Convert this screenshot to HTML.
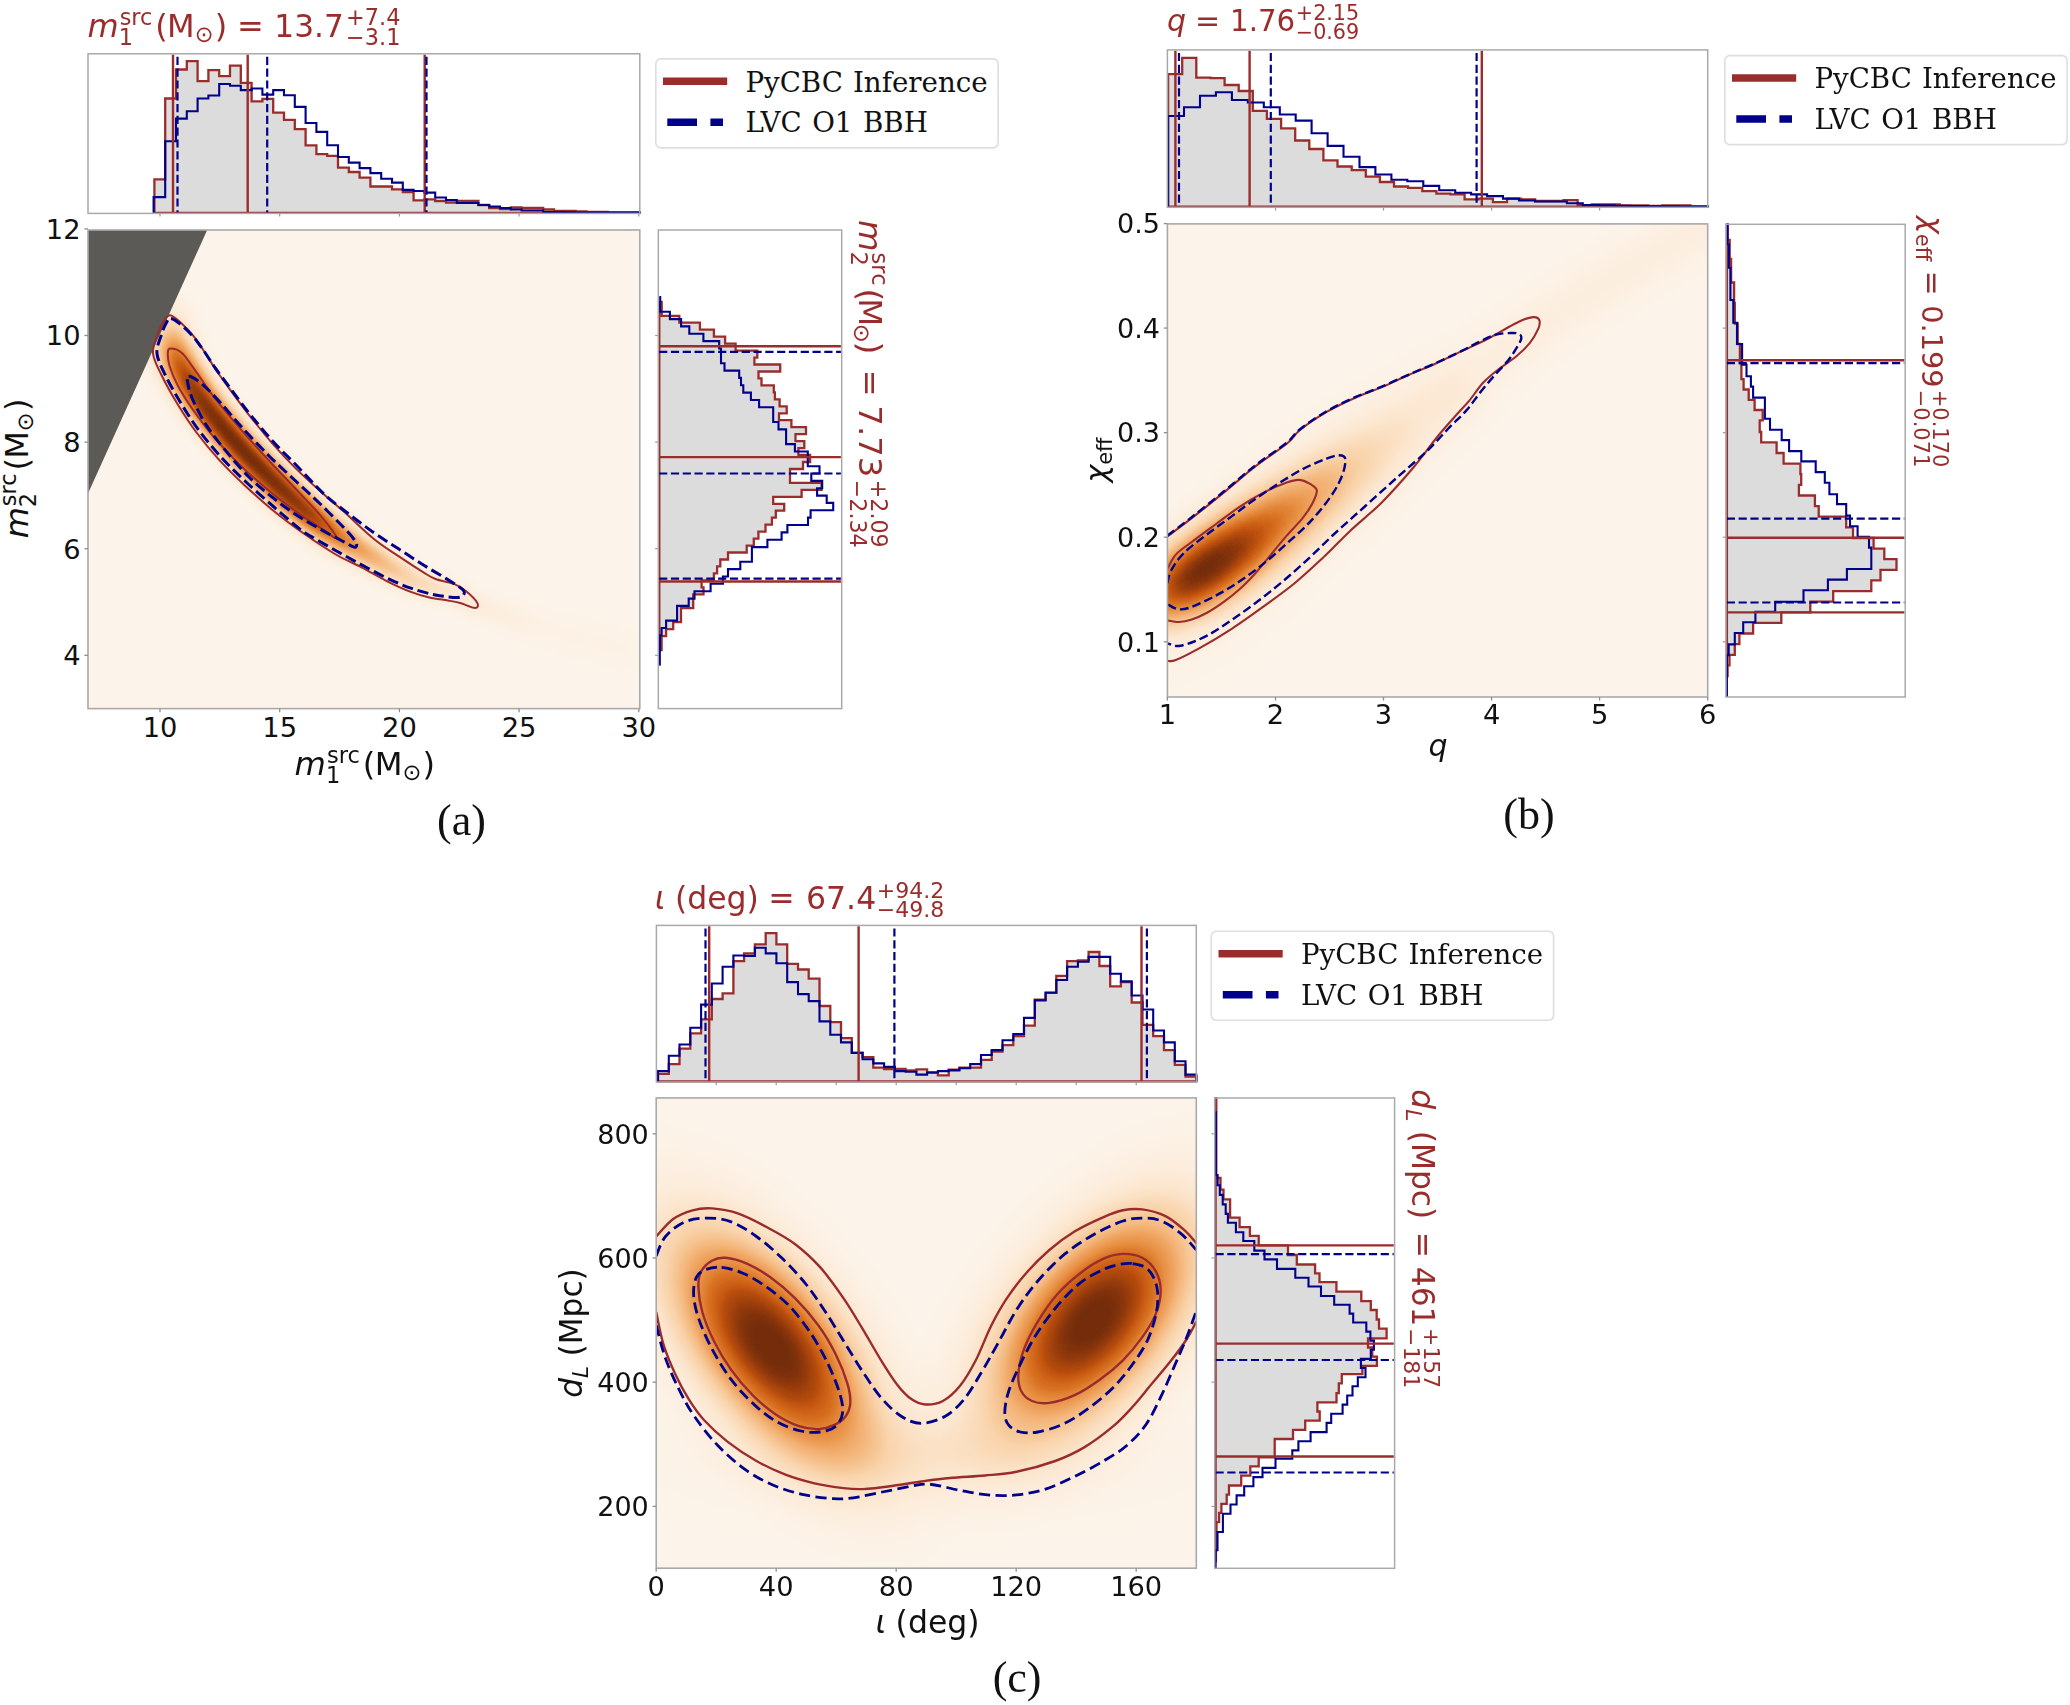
<!DOCTYPE html><html><head><meta charset="utf-8"><title>Posterior comparison</title>
<style>html,body{margin:0;padding:0;background:#fff}svg{display:block}</style></head><body>
<svg width="2070" height="1705" viewBox="0 0 2070 1705">
<defs>
<radialGradient id="g1" cx="0" cy="0" r="1" gradientUnits="userSpaceOnUse"><stop offset="0" stop-color="#fff" stop-opacity="0.0159"/><stop offset="0.05" stop-color="#fff" stop-opacity="0.0157"/><stop offset="0.09" stop-color="#fff" stop-opacity="0.0152"/><stop offset="0.14" stop-color="#fff" stop-opacity="0.0144"/><stop offset="0.18" stop-color="#fff" stop-opacity="0.0133"/><stop offset="0.23" stop-color="#fff" stop-opacity="0.012"/><stop offset="0.27" stop-color="#fff" stop-opacity="0.0106"/><stop offset="0.32" stop-color="#fff" stop-opacity="0.0092"/><stop offset="0.36" stop-color="#fff" stop-opacity="0.0078"/><stop offset="0.41" stop-color="#fff" stop-opacity="0.0064"/><stop offset="0.45" stop-color="#fff" stop-opacity="0.0052"/><stop offset="0.5" stop-color="#fff" stop-opacity="0.0041"/><stop offset="0.55" stop-color="#fff" stop-opacity="0.0032"/><stop offset="0.59" stop-color="#fff" stop-opacity="0.0024"/><stop offset="0.64" stop-color="#fff" stop-opacity="0.0018"/><stop offset="0.68" stop-color="#fff" stop-opacity="0.0013"/><stop offset="0.73" stop-color="#fff" stop-opacity="0.0009"/><stop offset="0.77" stop-color="#fff" stop-opacity="0.0006"/><stop offset="0.82" stop-color="#fff" stop-opacity="0.0004"/><stop offset="0.86" stop-color="#fff" stop-opacity="0.0003"/><stop offset="0.91" stop-color="#fff" stop-opacity="0.0002"/><stop offset="0.95" stop-color="#fff" stop-opacity="0.0001"/><stop offset="1" stop-color="#fff" stop-opacity="0"/></radialGradient>
<radialGradient id="g2" cx="0" cy="0" r="1" gradientUnits="userSpaceOnUse"><stop offset="0" stop-color="#fff" stop-opacity="0.0469"/><stop offset="0.05" stop-color="#fff" stop-opacity="0.0464"/><stop offset="0.09" stop-color="#fff" stop-opacity="0.0449"/><stop offset="0.14" stop-color="#fff" stop-opacity="0.0425"/><stop offset="0.18" stop-color="#fff" stop-opacity="0.0393"/><stop offset="0.23" stop-color="#fff" stop-opacity="0.0356"/><stop offset="0.27" stop-color="#fff" stop-opacity="0.0315"/><stop offset="0.32" stop-color="#fff" stop-opacity="0.0273"/><stop offset="0.36" stop-color="#fff" stop-opacity="0.0231"/><stop offset="0.41" stop-color="#fff" stop-opacity="0.0191"/><stop offset="0.45" stop-color="#fff" stop-opacity="0.0155"/><stop offset="0.5" stop-color="#fff" stop-opacity="0.0122"/><stop offset="0.55" stop-color="#fff" stop-opacity="0.0095"/><stop offset="0.59" stop-color="#fff" stop-opacity="0.0071"/><stop offset="0.64" stop-color="#fff" stop-opacity="0.0053"/><stop offset="0.68" stop-color="#fff" stop-opacity="0.0038"/><stop offset="0.73" stop-color="#fff" stop-opacity="0.0027"/><stop offset="0.77" stop-color="#fff" stop-opacity="0.0019"/><stop offset="0.82" stop-color="#fff" stop-opacity="0.0013"/><stop offset="0.86" stop-color="#fff" stop-opacity="0.0008"/><stop offset="0.91" stop-color="#fff" stop-opacity="0.0005"/><stop offset="0.95" stop-color="#fff" stop-opacity="0.0003"/><stop offset="1" stop-color="#fff" stop-opacity="0"/></radialGradient>
<radialGradient id="g3" cx="0" cy="0" r="1" gradientUnits="userSpaceOnUse"><stop offset="0" stop-color="#fff" stop-opacity="0.0915"/><stop offset="0.05" stop-color="#fff" stop-opacity="0.0906"/><stop offset="0.09" stop-color="#fff" stop-opacity="0.0877"/><stop offset="0.14" stop-color="#fff" stop-opacity="0.0831"/><stop offset="0.18" stop-color="#fff" stop-opacity="0.0771"/><stop offset="0.23" stop-color="#fff" stop-opacity="0.0699"/><stop offset="0.27" stop-color="#fff" stop-opacity="0.062"/><stop offset="0.32" stop-color="#fff" stop-opacity="0.0538"/><stop offset="0.36" stop-color="#fff" stop-opacity="0.0457"/><stop offset="0.41" stop-color="#fff" stop-opacity="0.0379"/><stop offset="0.45" stop-color="#fff" stop-opacity="0.0307"/><stop offset="0.5" stop-color="#fff" stop-opacity="0.0243"/><stop offset="0.55" stop-color="#fff" stop-opacity="0.0188"/><stop offset="0.59" stop-color="#fff" stop-opacity="0.0142"/><stop offset="0.64" stop-color="#fff" stop-opacity="0.0105"/><stop offset="0.68" stop-color="#fff" stop-opacity="0.0076"/><stop offset="0.73" stop-color="#fff" stop-opacity="0.0054"/><stop offset="0.77" stop-color="#fff" stop-opacity="0.0037"/><stop offset="0.82" stop-color="#fff" stop-opacity="0.0025"/><stop offset="0.86" stop-color="#fff" stop-opacity="0.0017"/><stop offset="0.91" stop-color="#fff" stop-opacity="0.0011"/><stop offset="0.95" stop-color="#fff" stop-opacity="0.0007"/><stop offset="1" stop-color="#fff" stop-opacity="0"/></radialGradient>
<radialGradient id="g4" cx="0" cy="0" r="1" gradientUnits="userSpaceOnUse"><stop offset="0" stop-color="#fff" stop-opacity="0.1614"/><stop offset="0.05" stop-color="#fff" stop-opacity="0.1597"/><stop offset="0.09" stop-color="#fff" stop-opacity="0.1549"/><stop offset="0.14" stop-color="#fff" stop-opacity="0.147"/><stop offset="0.18" stop-color="#fff" stop-opacity="0.1367"/><stop offset="0.23" stop-color="#fff" stop-opacity="0.1244"/><stop offset="0.27" stop-color="#fff" stop-opacity="0.1108"/><stop offset="0.32" stop-color="#fff" stop-opacity="0.0964"/><stop offset="0.36" stop-color="#fff" stop-opacity="0.0821"/><stop offset="0.41" stop-color="#fff" stop-opacity="0.0683"/><stop offset="0.45" stop-color="#fff" stop-opacity="0.0555"/><stop offset="0.5" stop-color="#fff" stop-opacity="0.0441"/><stop offset="0.55" stop-color="#fff" stop-opacity="0.0342"/><stop offset="0.59" stop-color="#fff" stop-opacity="0.0259"/><stop offset="0.64" stop-color="#fff" stop-opacity="0.0192"/><stop offset="0.68" stop-color="#fff" stop-opacity="0.0139"/><stop offset="0.73" stop-color="#fff" stop-opacity="0.0098"/><stop offset="0.77" stop-color="#fff" stop-opacity="0.0068"/><stop offset="0.82" stop-color="#fff" stop-opacity="0.0046"/><stop offset="0.86" stop-color="#fff" stop-opacity="0.003"/><stop offset="0.91" stop-color="#fff" stop-opacity="0.002"/><stop offset="0.95" stop-color="#fff" stop-opacity="0.0012"/><stop offset="1" stop-color="#fff" stop-opacity="0"/></radialGradient>
<radialGradient id="g5" cx="0" cy="0" r="1" gradientUnits="userSpaceOnUse"><stop offset="0" stop-color="#fff" stop-opacity="0.2381"/><stop offset="0.05" stop-color="#fff" stop-opacity="0.2358"/><stop offset="0.09" stop-color="#fff" stop-opacity="0.229"/><stop offset="0.14" stop-color="#fff" stop-opacity="0.2179"/><stop offset="0.18" stop-color="#fff" stop-opacity="0.2032"/><stop offset="0.23" stop-color="#fff" stop-opacity="0.1856"/><stop offset="0.27" stop-color="#fff" stop-opacity="0.1659"/><stop offset="0.32" stop-color="#fff" stop-opacity="0.1451"/><stop offset="0.36" stop-color="#fff" stop-opacity="0.124"/><stop offset="0.41" stop-color="#fff" stop-opacity="0.1036"/><stop offset="0.45" stop-color="#fff" stop-opacity="0.0845"/><stop offset="0.5" stop-color="#fff" stop-opacity="0.0673"/><stop offset="0.55" stop-color="#fff" stop-opacity="0.0524"/><stop offset="0.59" stop-color="#fff" stop-opacity="0.0398"/><stop offset="0.64" stop-color="#fff" stop-opacity="0.0295"/><stop offset="0.68" stop-color="#fff" stop-opacity="0.0214"/><stop offset="0.73" stop-color="#fff" stop-opacity="0.0152"/><stop offset="0.77" stop-color="#fff" stop-opacity="0.0105"/><stop offset="0.82" stop-color="#fff" stop-opacity="0.0071"/><stop offset="0.86" stop-color="#fff" stop-opacity="0.0047"/><stop offset="0.91" stop-color="#fff" stop-opacity="0.003"/><stop offset="0.95" stop-color="#fff" stop-opacity="0.0019"/><stop offset="1" stop-color="#fff" stop-opacity="0"/></radialGradient>
<radialGradient id="g6" cx="0" cy="0" r="1" gradientUnits="userSpaceOnUse"><stop offset="0" stop-color="#fff" stop-opacity="0.3079"/><stop offset="0.05" stop-color="#fff" stop-opacity="0.305"/><stop offset="0.09" stop-color="#fff" stop-opacity="0.2966"/><stop offset="0.14" stop-color="#fff" stop-opacity="0.2829"/><stop offset="0.18" stop-color="#fff" stop-opacity="0.2646"/><stop offset="0.23" stop-color="#fff" stop-opacity="0.2425"/><stop offset="0.27" stop-color="#fff" stop-opacity="0.2176"/><stop offset="0.32" stop-color="#fff" stop-opacity="0.1911"/><stop offset="0.36" stop-color="#fff" stop-opacity="0.164"/><stop offset="0.41" stop-color="#fff" stop-opacity="0.1375"/><stop offset="0.45" stop-color="#fff" stop-opacity="0.1126"/><stop offset="0.5" stop-color="#fff" stop-opacity="0.09"/><stop offset="0.55" stop-color="#fff" stop-opacity="0.0702"/><stop offset="0.59" stop-color="#fff" stop-opacity="0.0535"/><stop offset="0.64" stop-color="#fff" stop-opacity="0.0398"/><stop offset="0.68" stop-color="#fff" stop-opacity="0.0289"/><stop offset="0.73" stop-color="#fff" stop-opacity="0.0204"/><stop offset="0.77" stop-color="#fff" stop-opacity="0.0142"/><stop offset="0.82" stop-color="#fff" stop-opacity="0.0096"/><stop offset="0.86" stop-color="#fff" stop-opacity="0.0063"/><stop offset="0.91" stop-color="#fff" stop-opacity="0.0041"/><stop offset="0.95" stop-color="#fff" stop-opacity="0.0026"/><stop offset="1" stop-color="#fff" stop-opacity="0"/></radialGradient>
<radialGradient id="g7" cx="0" cy="0" r="1" gradientUnits="userSpaceOnUse"><stop offset="0" stop-color="#fff" stop-opacity="0.3611"/><stop offset="0.05" stop-color="#fff" stop-opacity="0.3579"/><stop offset="0.09" stop-color="#fff" stop-opacity="0.3484"/><stop offset="0.14" stop-color="#fff" stop-opacity="0.3329"/><stop offset="0.18" stop-color="#fff" stop-opacity="0.3122"/><stop offset="0.23" stop-color="#fff" stop-opacity="0.2869"/><stop offset="0.27" stop-color="#fff" stop-opacity="0.2583"/><stop offset="0.32" stop-color="#fff" stop-opacity="0.2275"/><stop offset="0.36" stop-color="#fff" stop-opacity="0.1959"/><stop offset="0.41" stop-color="#fff" stop-opacity="0.1648"/><stop offset="0.45" stop-color="#fff" stop-opacity="0.1354"/><stop offset="0.5" stop-color="#fff" stop-opacity="0.1085"/><stop offset="0.55" stop-color="#fff" stop-opacity="0.0848"/><stop offset="0.59" stop-color="#fff" stop-opacity="0.0647"/><stop offset="0.64" stop-color="#fff" stop-opacity="0.0482"/><stop offset="0.68" stop-color="#fff" stop-opacity="0.035"/><stop offset="0.73" stop-color="#fff" stop-opacity="0.0248"/><stop offset="0.77" stop-color="#fff" stop-opacity="0.0172"/><stop offset="0.82" stop-color="#fff" stop-opacity="0.0116"/><stop offset="0.86" stop-color="#fff" stop-opacity="0.0077"/><stop offset="0.91" stop-color="#fff" stop-opacity="0.005"/><stop offset="0.95" stop-color="#fff" stop-opacity="0.0031"/><stop offset="1" stop-color="#fff" stop-opacity="0"/></radialGradient>
<radialGradient id="g8" cx="0" cy="0" r="1" gradientUnits="userSpaceOnUse"><stop offset="0" stop-color="#fff" stop-opacity="0.391"/><stop offset="0.05" stop-color="#fff" stop-opacity="0.3877"/><stop offset="0.09" stop-color="#fff" stop-opacity="0.3776"/><stop offset="0.14" stop-color="#fff" stop-opacity="0.3612"/><stop offset="0.18" stop-color="#fff" stop-opacity="0.3392"/><stop offset="0.23" stop-color="#fff" stop-opacity="0.3123"/><stop offset="0.27" stop-color="#fff" stop-opacity="0.2817"/><stop offset="0.32" stop-color="#fff" stop-opacity="0.2486"/><stop offset="0.36" stop-color="#fff" stop-opacity="0.2145"/><stop offset="0.41" stop-color="#fff" stop-opacity="0.1808"/><stop offset="0.45" stop-color="#fff" stop-opacity="0.1487"/><stop offset="0.5" stop-color="#fff" stop-opacity="0.1194"/><stop offset="0.55" stop-color="#fff" stop-opacity="0.0935"/><stop offset="0.59" stop-color="#fff" stop-opacity="0.0714"/><stop offset="0.64" stop-color="#fff" stop-opacity="0.0532"/><stop offset="0.68" stop-color="#fff" stop-opacity="0.0387"/><stop offset="0.73" stop-color="#fff" stop-opacity="0.0275"/><stop offset="0.77" stop-color="#fff" stop-opacity="0.019"/><stop offset="0.82" stop-color="#fff" stop-opacity="0.0129"/><stop offset="0.86" stop-color="#fff" stop-opacity="0.0085"/><stop offset="0.91" stop-color="#fff" stop-opacity="0.0055"/><stop offset="0.95" stop-color="#fff" stop-opacity="0.0035"/><stop offset="1" stop-color="#fff" stop-opacity="0"/></radialGradient>
<radialGradient id="g9" cx="0" cy="0" r="1" gradientUnits="userSpaceOnUse"><stop offset="0" stop-color="#fff" stop-opacity="0.4288"/><stop offset="0.05" stop-color="#fff" stop-opacity="0.4252"/><stop offset="0.09" stop-color="#fff" stop-opacity="0.4145"/><stop offset="0.14" stop-color="#fff" stop-opacity="0.3971"/><stop offset="0.18" stop-color="#fff" stop-opacity="0.3736"/><stop offset="0.23" stop-color="#fff" stop-opacity="0.3447"/><stop offset="0.27" stop-color="#fff" stop-opacity="0.3117"/><stop offset="0.32" stop-color="#fff" stop-opacity="0.2758"/><stop offset="0.36" stop-color="#fff" stop-opacity="0.2386"/><stop offset="0.41" stop-color="#fff" stop-opacity="0.2016"/><stop offset="0.45" stop-color="#fff" stop-opacity="0.1662"/><stop offset="0.5" stop-color="#fff" stop-opacity="0.1337"/><stop offset="0.55" stop-color="#fff" stop-opacity="0.1049"/><stop offset="0.59" stop-color="#fff" stop-opacity="0.0803"/><stop offset="0.64" stop-color="#fff" stop-opacity="0.0599"/><stop offset="0.68" stop-color="#fff" stop-opacity="0.0436"/><stop offset="0.73" stop-color="#fff" stop-opacity="0.0309"/><stop offset="0.77" stop-color="#fff" stop-opacity="0.0215"/><stop offset="0.82" stop-color="#fff" stop-opacity="0.0145"/><stop offset="0.86" stop-color="#fff" stop-opacity="0.0096"/><stop offset="0.91" stop-color="#fff" stop-opacity="0.0062"/><stop offset="0.95" stop-color="#fff" stop-opacity="0.0039"/><stop offset="1" stop-color="#fff" stop-opacity="0"/></radialGradient>
<radialGradient id="g10" cx="0" cy="0" r="1" gradientUnits="userSpaceOnUse"><stop offset="0" stop-color="#fff" stop-opacity="0.4379"/><stop offset="0.05" stop-color="#fff" stop-opacity="0.4342"/><stop offset="0.09" stop-color="#fff" stop-opacity="0.4234"/><stop offset="0.14" stop-color="#fff" stop-opacity="0.4058"/><stop offset="0.18" stop-color="#fff" stop-opacity="0.3819"/><stop offset="0.23" stop-color="#fff" stop-opacity="0.3526"/><stop offset="0.27" stop-color="#fff" stop-opacity="0.319"/><stop offset="0.32" stop-color="#fff" stop-opacity="0.2824"/><stop offset="0.36" stop-color="#fff" stop-opacity="0.2445"/><stop offset="0.41" stop-color="#fff" stop-opacity="0.2067"/><stop offset="0.45" stop-color="#fff" stop-opacity="0.1706"/><stop offset="0.5" stop-color="#fff" stop-opacity="0.1373"/><stop offset="0.55" stop-color="#fff" stop-opacity="0.1077"/><stop offset="0.59" stop-color="#fff" stop-opacity="0.0824"/><stop offset="0.64" stop-color="#fff" stop-opacity="0.0615"/><stop offset="0.68" stop-color="#fff" stop-opacity="0.0448"/><stop offset="0.73" stop-color="#fff" stop-opacity="0.0318"/><stop offset="0.77" stop-color="#fff" stop-opacity="0.0221"/><stop offset="0.82" stop-color="#fff" stop-opacity="0.0149"/><stop offset="0.86" stop-color="#fff" stop-opacity="0.0099"/><stop offset="0.91" stop-color="#fff" stop-opacity="0.0064"/><stop offset="0.95" stop-color="#fff" stop-opacity="0.004"/><stop offset="1" stop-color="#fff" stop-opacity="0"/></radialGradient>
<radialGradient id="g11" cx="0" cy="0" r="1" gradientUnits="userSpaceOnUse"><stop offset="0" stop-color="#fff" stop-opacity="0.4556"/><stop offset="0.05" stop-color="#fff" stop-opacity="0.4518"/><stop offset="0.09" stop-color="#fff" stop-opacity="0.4408"/><stop offset="0.14" stop-color="#fff" stop-opacity="0.4227"/><stop offset="0.18" stop-color="#fff" stop-opacity="0.3982"/><stop offset="0.23" stop-color="#fff" stop-opacity="0.368"/><stop offset="0.27" stop-color="#fff" stop-opacity="0.3334"/><stop offset="0.32" stop-color="#fff" stop-opacity="0.2956"/><stop offset="0.36" stop-color="#fff" stop-opacity="0.2562"/><stop offset="0.41" stop-color="#fff" stop-opacity="0.2168"/><stop offset="0.45" stop-color="#fff" stop-opacity="0.1791"/><stop offset="0.5" stop-color="#fff" stop-opacity="0.1443"/><stop offset="0.55" stop-color="#fff" stop-opacity="0.1134"/><stop offset="0.59" stop-color="#fff" stop-opacity="0.0868"/><stop offset="0.64" stop-color="#fff" stop-opacity="0.0648"/><stop offset="0.68" stop-color="#fff" stop-opacity="0.0472"/><stop offset="0.73" stop-color="#fff" stop-opacity="0.0336"/><stop offset="0.77" stop-color="#fff" stop-opacity="0.0233"/><stop offset="0.82" stop-color="#fff" stop-opacity="0.0158"/><stop offset="0.86" stop-color="#fff" stop-opacity="0.0104"/><stop offset="0.91" stop-color="#fff" stop-opacity="0.0067"/><stop offset="0.95" stop-color="#fff" stop-opacity="0.0042"/><stop offset="1" stop-color="#fff" stop-opacity="0"/></radialGradient>
<radialGradient id="g12" cx="0" cy="0" r="1" gradientUnits="userSpaceOnUse"><stop offset="0" stop-color="#fff" stop-opacity="0.4642"/><stop offset="0.05" stop-color="#fff" stop-opacity="0.4604"/><stop offset="0.09" stop-color="#fff" stop-opacity="0.4493"/><stop offset="0.14" stop-color="#fff" stop-opacity="0.431"/><stop offset="0.18" stop-color="#fff" stop-opacity="0.4062"/><stop offset="0.23" stop-color="#fff" stop-opacity="0.3756"/><stop offset="0.27" stop-color="#fff" stop-opacity="0.3404"/><stop offset="0.32" stop-color="#fff" stop-opacity="0.302"/><stop offset="0.36" stop-color="#fff" stop-opacity="0.2619"/><stop offset="0.41" stop-color="#fff" stop-opacity="0.2219"/><stop offset="0.45" stop-color="#fff" stop-opacity="0.1834"/><stop offset="0.5" stop-color="#fff" stop-opacity="0.1478"/><stop offset="0.55" stop-color="#fff" stop-opacity="0.1162"/><stop offset="0.59" stop-color="#fff" stop-opacity="0.089"/><stop offset="0.64" stop-color="#fff" stop-opacity="0.0665"/><stop offset="0.68" stop-color="#fff" stop-opacity="0.0484"/><stop offset="0.73" stop-color="#fff" stop-opacity="0.0344"/><stop offset="0.77" stop-color="#fff" stop-opacity="0.0239"/><stop offset="0.82" stop-color="#fff" stop-opacity="0.0162"/><stop offset="0.86" stop-color="#fff" stop-opacity="0.0107"/><stop offset="0.91" stop-color="#fff" stop-opacity="0.0069"/><stop offset="0.95" stop-color="#fff" stop-opacity="0.0044"/><stop offset="1" stop-color="#fff" stop-opacity="0"/></radialGradient>
<radialGradient id="g13" cx="0" cy="0" r="1" gradientUnits="userSpaceOnUse"><stop offset="0" stop-color="#fff" stop-opacity="0.4727"/><stop offset="0.05" stop-color="#fff" stop-opacity="0.4689"/><stop offset="0.09" stop-color="#fff" stop-opacity="0.4576"/><stop offset="0.14" stop-color="#fff" stop-opacity="0.4392"/><stop offset="0.18" stop-color="#fff" stop-opacity="0.4141"/><stop offset="0.23" stop-color="#fff" stop-opacity="0.3831"/><stop offset="0.27" stop-color="#fff" stop-opacity="0.3474"/><stop offset="0.32" stop-color="#fff" stop-opacity="0.3084"/><stop offset="0.36" stop-color="#fff" stop-opacity="0.2677"/><stop offset="0.41" stop-color="#fff" stop-opacity="0.2269"/><stop offset="0.45" stop-color="#fff" stop-opacity="0.1876"/><stop offset="0.5" stop-color="#fff" stop-opacity="0.1513"/><stop offset="0.55" stop-color="#fff" stop-opacity="0.119"/><stop offset="0.59" stop-color="#fff" stop-opacity="0.0912"/><stop offset="0.64" stop-color="#fff" stop-opacity="0.0681"/><stop offset="0.68" stop-color="#fff" stop-opacity="0.0496"/><stop offset="0.73" stop-color="#fff" stop-opacity="0.0353"/><stop offset="0.77" stop-color="#fff" stop-opacity="0.0245"/><stop offset="0.82" stop-color="#fff" stop-opacity="0.0166"/><stop offset="0.86" stop-color="#fff" stop-opacity="0.011"/><stop offset="0.91" stop-color="#fff" stop-opacity="0.0071"/><stop offset="0.95" stop-color="#fff" stop-opacity="0.0045"/><stop offset="1" stop-color="#fff" stop-opacity="0"/></radialGradient>
<radialGradient id="g14" cx="0" cy="0" r="1" gradientUnits="userSpaceOnUse"><stop offset="0" stop-color="#fff" stop-opacity="0.4811"/><stop offset="0.05" stop-color="#fff" stop-opacity="0.4773"/><stop offset="0.09" stop-color="#fff" stop-opacity="0.4659"/><stop offset="0.14" stop-color="#fff" stop-opacity="0.4472"/><stop offset="0.18" stop-color="#fff" stop-opacity="0.4219"/><stop offset="0.23" stop-color="#fff" stop-opacity="0.3905"/><stop offset="0.27" stop-color="#fff" stop-opacity="0.3544"/><stop offset="0.32" stop-color="#fff" stop-opacity="0.3148"/><stop offset="0.36" stop-color="#fff" stop-opacity="0.2733"/><stop offset="0.41" stop-color="#fff" stop-opacity="0.2318"/><stop offset="0.45" stop-color="#fff" stop-opacity="0.1918"/><stop offset="0.5" stop-color="#fff" stop-opacity="0.1548"/><stop offset="0.55" stop-color="#fff" stop-opacity="0.1217"/><stop offset="0.59" stop-color="#fff" stop-opacity="0.0933"/><stop offset="0.64" stop-color="#fff" stop-opacity="0.0698"/><stop offset="0.68" stop-color="#fff" stop-opacity="0.0509"/><stop offset="0.73" stop-color="#fff" stop-opacity="0.0362"/><stop offset="0.77" stop-color="#fff" stop-opacity="0.0251"/><stop offset="0.82" stop-color="#fff" stop-opacity="0.017"/><stop offset="0.86" stop-color="#fff" stop-opacity="0.0112"/><stop offset="0.91" stop-color="#fff" stop-opacity="0.0073"/><stop offset="0.95" stop-color="#fff" stop-opacity="0.0046"/><stop offset="1" stop-color="#fff" stop-opacity="0"/></radialGradient>
<radialGradient id="g15" cx="0" cy="0" r="1" gradientUnits="userSpaceOnUse"><stop offset="0" stop-color="#fff" stop-opacity="0.4893"/><stop offset="0.05" stop-color="#fff" stop-opacity="0.4855"/><stop offset="0.09" stop-color="#fff" stop-opacity="0.474"/><stop offset="0.14" stop-color="#fff" stop-opacity="0.4552"/><stop offset="0.18" stop-color="#fff" stop-opacity="0.4295"/><stop offset="0.23" stop-color="#fff" stop-opacity="0.3979"/><stop offset="0.27" stop-color="#fff" stop-opacity="0.3612"/><stop offset="0.32" stop-color="#fff" stop-opacity="0.3211"/><stop offset="0.36" stop-color="#fff" stop-opacity="0.279"/><stop offset="0.41" stop-color="#fff" stop-opacity="0.2367"/><stop offset="0.45" stop-color="#fff" stop-opacity="0.196"/><stop offset="0.5" stop-color="#fff" stop-opacity="0.1582"/><stop offset="0.55" stop-color="#fff" stop-opacity="0.1245"/><stop offset="0.59" stop-color="#fff" stop-opacity="0.0955"/><stop offset="0.64" stop-color="#fff" stop-opacity="0.0714"/><stop offset="0.68" stop-color="#fff" stop-opacity="0.0521"/><stop offset="0.73" stop-color="#fff" stop-opacity="0.037"/><stop offset="0.77" stop-color="#fff" stop-opacity="0.0257"/><stop offset="0.82" stop-color="#fff" stop-opacity="0.0174"/><stop offset="0.86" stop-color="#fff" stop-opacity="0.0115"/><stop offset="0.91" stop-color="#fff" stop-opacity="0.0074"/><stop offset="0.95" stop-color="#fff" stop-opacity="0.0047"/><stop offset="1" stop-color="#fff" stop-opacity="0"/></radialGradient>
<radialGradient id="g16" cx="0" cy="0" r="1" gradientUnits="userSpaceOnUse"><stop offset="0" stop-color="#fff" stop-opacity="0.4468"/><stop offset="0.05" stop-color="#fff" stop-opacity="0.4431"/><stop offset="0.09" stop-color="#fff" stop-opacity="0.4322"/><stop offset="0.14" stop-color="#fff" stop-opacity="0.4143"/><stop offset="0.18" stop-color="#fff" stop-opacity="0.3901"/><stop offset="0.23" stop-color="#fff" stop-opacity="0.3604"/><stop offset="0.27" stop-color="#fff" stop-opacity="0.3262"/><stop offset="0.32" stop-color="#fff" stop-opacity="0.289"/><stop offset="0.36" stop-color="#fff" stop-opacity="0.2504"/><stop offset="0.41" stop-color="#fff" stop-opacity="0.2118"/><stop offset="0.45" stop-color="#fff" stop-opacity="0.1749"/><stop offset="0.5" stop-color="#fff" stop-opacity="0.1408"/><stop offset="0.55" stop-color="#fff" stop-opacity="0.1106"/><stop offset="0.59" stop-color="#fff" stop-opacity="0.0846"/><stop offset="0.64" stop-color="#fff" stop-opacity="0.0632"/><stop offset="0.68" stop-color="#fff" stop-opacity="0.046"/><stop offset="0.73" stop-color="#fff" stop-opacity="0.0327"/><stop offset="0.77" stop-color="#fff" stop-opacity="0.0227"/><stop offset="0.82" stop-color="#fff" stop-opacity="0.0153"/><stop offset="0.86" stop-color="#fff" stop-opacity="0.0101"/><stop offset="0.91" stop-color="#fff" stop-opacity="0.0066"/><stop offset="0.95" stop-color="#fff" stop-opacity="0.0041"/><stop offset="1" stop-color="#fff" stop-opacity="0"/></radialGradient>
<radialGradient id="g17" cx="0" cy="0" r="1" gradientUnits="userSpaceOnUse"><stop offset="0" stop-color="#fff" stop-opacity="0.4007"/><stop offset="0.05" stop-color="#fff" stop-opacity="0.3973"/><stop offset="0.09" stop-color="#fff" stop-opacity="0.387"/><stop offset="0.14" stop-color="#fff" stop-opacity="0.3704"/><stop offset="0.18" stop-color="#fff" stop-opacity="0.348"/><stop offset="0.23" stop-color="#fff" stop-opacity="0.3206"/><stop offset="0.27" stop-color="#fff" stop-opacity="0.2893"/><stop offset="0.32" stop-color="#fff" stop-opacity="0.2555"/><stop offset="0.36" stop-color="#fff" stop-opacity="0.2206"/><stop offset="0.41" stop-color="#fff" stop-opacity="0.186"/><stop offset="0.45" stop-color="#fff" stop-opacity="0.1531"/><stop offset="0.5" stop-color="#fff" stop-opacity="0.123"/><stop offset="0.55" stop-color="#fff" stop-opacity="0.0964"/><stop offset="0.59" stop-color="#fff" stop-opacity="0.0736"/><stop offset="0.64" stop-color="#fff" stop-opacity="0.0549"/><stop offset="0.68" stop-color="#fff" stop-opacity="0.0399"/><stop offset="0.73" stop-color="#fff" stop-opacity="0.0283"/><stop offset="0.77" stop-color="#fff" stop-opacity="0.0196"/><stop offset="0.82" stop-color="#fff" stop-opacity="0.0133"/><stop offset="0.86" stop-color="#fff" stop-opacity="0.0088"/><stop offset="0.91" stop-color="#fff" stop-opacity="0.0057"/><stop offset="0.95" stop-color="#fff" stop-opacity="0.0036"/><stop offset="1" stop-color="#fff" stop-opacity="0"/></radialGradient>
<radialGradient id="g18" cx="0" cy="0" r="1" gradientUnits="userSpaceOnUse"><stop offset="0" stop-color="#fff" stop-opacity="0.3712"/><stop offset="0.05" stop-color="#fff" stop-opacity="0.368"/><stop offset="0.09" stop-color="#fff" stop-opacity="0.3583"/><stop offset="0.14" stop-color="#fff" stop-opacity="0.3425"/><stop offset="0.18" stop-color="#fff" stop-opacity="0.3213"/><stop offset="0.23" stop-color="#fff" stop-opacity="0.2955"/><stop offset="0.27" stop-color="#fff" stop-opacity="0.2662"/><stop offset="0.32" stop-color="#fff" stop-opacity="0.2346"/><stop offset="0.36" stop-color="#fff" stop-opacity="0.2022"/><stop offset="0.41" stop-color="#fff" stop-opacity="0.1702"/><stop offset="0.45" stop-color="#fff" stop-opacity="0.1398"/><stop offset="0.5" stop-color="#fff" stop-opacity="0.1121"/><stop offset="0.55" stop-color="#fff" stop-opacity="0.0877"/><stop offset="0.59" stop-color="#fff" stop-opacity="0.067"/><stop offset="0.64" stop-color="#fff" stop-opacity="0.0499"/><stop offset="0.68" stop-color="#fff" stop-opacity="0.0362"/><stop offset="0.73" stop-color="#fff" stop-opacity="0.0257"/><stop offset="0.77" stop-color="#fff" stop-opacity="0.0178"/><stop offset="0.82" stop-color="#fff" stop-opacity="0.012"/><stop offset="0.86" stop-color="#fff" stop-opacity="0.008"/><stop offset="0.91" stop-color="#fff" stop-opacity="0.0051"/><stop offset="0.95" stop-color="#fff" stop-opacity="0.0032"/><stop offset="1" stop-color="#fff" stop-opacity="0"/></radialGradient>
<radialGradient id="g19" cx="0" cy="0" r="1" gradientUnits="userSpaceOnUse"><stop offset="0" stop-color="#fff" stop-opacity="0.3403"/><stop offset="0.05" stop-color="#fff" stop-opacity="0.3372"/><stop offset="0.09" stop-color="#fff" stop-opacity="0.3281"/><stop offset="0.14" stop-color="#fff" stop-opacity="0.3134"/><stop offset="0.18" stop-color="#fff" stop-opacity="0.2935"/><stop offset="0.23" stop-color="#fff" stop-opacity="0.2695"/><stop offset="0.27" stop-color="#fff" stop-opacity="0.2423"/><stop offset="0.32" stop-color="#fff" stop-opacity="0.2131"/><stop offset="0.36" stop-color="#fff" stop-opacity="0.1833"/><stop offset="0.41" stop-color="#fff" stop-opacity="0.154"/><stop offset="0.45" stop-color="#fff" stop-opacity="0.1263"/><stop offset="0.5" stop-color="#fff" stop-opacity="0.1011"/><stop offset="0.55" stop-color="#fff" stop-opacity="0.079"/><stop offset="0.59" stop-color="#fff" stop-opacity="0.0603"/><stop offset="0.64" stop-color="#fff" stop-opacity="0.0448"/><stop offset="0.68" stop-color="#fff" stop-opacity="0.0326"/><stop offset="0.73" stop-color="#fff" stop-opacity="0.0231"/><stop offset="0.77" stop-color="#fff" stop-opacity="0.016"/><stop offset="0.82" stop-color="#fff" stop-opacity="0.0108"/><stop offset="0.86" stop-color="#fff" stop-opacity="0.0071"/><stop offset="0.91" stop-color="#fff" stop-opacity="0.0046"/><stop offset="0.95" stop-color="#fff" stop-opacity="0.0029"/><stop offset="1" stop-color="#fff" stop-opacity="0"/></radialGradient>
<radialGradient id="g20" cx="0" cy="0" r="1" gradientUnits="userSpaceOnUse"><stop offset="0" stop-color="#fff" stop-opacity="0.2739"/><stop offset="0.05" stop-color="#fff" stop-opacity="0.2712"/><stop offset="0.09" stop-color="#fff" stop-opacity="0.2636"/><stop offset="0.14" stop-color="#fff" stop-opacity="0.2511"/><stop offset="0.18" stop-color="#fff" stop-opacity="0.2345"/><stop offset="0.23" stop-color="#fff" stop-opacity="0.2146"/><stop offset="0.27" stop-color="#fff" stop-opacity="0.1922"/><stop offset="0.32" stop-color="#fff" stop-opacity="0.1684"/><stop offset="0.36" stop-color="#fff" stop-opacity="0.1442"/><stop offset="0.41" stop-color="#fff" stop-opacity="0.1207"/><stop offset="0.45" stop-color="#fff" stop-opacity="0.0987"/><stop offset="0.5" stop-color="#fff" stop-opacity="0.0788"/><stop offset="0.55" stop-color="#fff" stop-opacity="0.0614"/><stop offset="0.59" stop-color="#fff" stop-opacity="0.0467"/><stop offset="0.64" stop-color="#fff" stop-opacity="0.0347"/><stop offset="0.68" stop-color="#fff" stop-opacity="0.0251"/><stop offset="0.73" stop-color="#fff" stop-opacity="0.0178"/><stop offset="0.77" stop-color="#fff" stop-opacity="0.0123"/><stop offset="0.82" stop-color="#fff" stop-opacity="0.0083"/><stop offset="0.86" stop-color="#fff" stop-opacity="0.0055"/><stop offset="0.91" stop-color="#fff" stop-opacity="0.0035"/><stop offset="0.95" stop-color="#fff" stop-opacity="0.0022"/><stop offset="1" stop-color="#fff" stop-opacity="0"/></radialGradient>
<radialGradient id="g21" cx="0" cy="0" r="1" gradientUnits="userSpaceOnUse"><stop offset="0" stop-color="#fff" stop-opacity="0.2502"/><stop offset="0.05" stop-color="#fff" stop-opacity="0.2478"/><stop offset="0.09" stop-color="#fff" stop-opacity="0.2407"/><stop offset="0.14" stop-color="#fff" stop-opacity="0.2292"/><stop offset="0.18" stop-color="#fff" stop-opacity="0.2138"/><stop offset="0.23" stop-color="#fff" stop-opacity="0.1954"/><stop offset="0.27" stop-color="#fff" stop-opacity="0.1748"/><stop offset="0.32" stop-color="#fff" stop-opacity="0.1529"/><stop offset="0.36" stop-color="#fff" stop-opacity="0.1308"/><stop offset="0.41" stop-color="#fff" stop-opacity="0.1093"/><stop offset="0.45" stop-color="#fff" stop-opacity="0.0893"/><stop offset="0.5" stop-color="#fff" stop-opacity="0.0712"/><stop offset="0.55" stop-color="#fff" stop-opacity="0.0554"/><stop offset="0.59" stop-color="#fff" stop-opacity="0.0421"/><stop offset="0.64" stop-color="#fff" stop-opacity="0.0313"/><stop offset="0.68" stop-color="#fff" stop-opacity="0.0227"/><stop offset="0.73" stop-color="#fff" stop-opacity="0.016"/><stop offset="0.77" stop-color="#fff" stop-opacity="0.0111"/><stop offset="0.82" stop-color="#fff" stop-opacity="0.0075"/><stop offset="0.86" stop-color="#fff" stop-opacity="0.0049"/><stop offset="0.91" stop-color="#fff" stop-opacity="0.0032"/><stop offset="0.95" stop-color="#fff" stop-opacity="0.002"/><stop offset="1" stop-color="#fff" stop-opacity="0"/></radialGradient>
<radialGradient id="g22" cx="0" cy="0" r="1" gradientUnits="userSpaceOnUse"><stop offset="0" stop-color="#fff" stop-opacity="0.2259"/><stop offset="0.05" stop-color="#fff" stop-opacity="0.2236"/><stop offset="0.09" stop-color="#fff" stop-opacity="0.2171"/><stop offset="0.14" stop-color="#fff" stop-opacity="0.2065"/><stop offset="0.18" stop-color="#fff" stop-opacity="0.1925"/><stop offset="0.23" stop-color="#fff" stop-opacity="0.1757"/><stop offset="0.27" stop-color="#fff" stop-opacity="0.157"/><stop offset="0.32" stop-color="#fff" stop-opacity="0.1372"/><stop offset="0.36" stop-color="#fff" stop-opacity="0.1172"/><stop offset="0.41" stop-color="#fff" stop-opacity="0.0978"/><stop offset="0.45" stop-color="#fff" stop-opacity="0.0798"/><stop offset="0.5" stop-color="#fff" stop-opacity="0.0635"/><stop offset="0.55" stop-color="#fff" stop-opacity="0.0494"/><stop offset="0.59" stop-color="#fff" stop-opacity="0.0375"/><stop offset="0.64" stop-color="#fff" stop-opacity="0.0278"/><stop offset="0.68" stop-color="#fff" stop-opacity="0.0202"/><stop offset="0.73" stop-color="#fff" stop-opacity="0.0143"/><stop offset="0.77" stop-color="#fff" stop-opacity="0.0099"/><stop offset="0.82" stop-color="#fff" stop-opacity="0.0067"/><stop offset="0.86" stop-color="#fff" stop-opacity="0.0044"/><stop offset="0.91" stop-color="#fff" stop-opacity="0.0028"/><stop offset="0.95" stop-color="#fff" stop-opacity="0.0018"/><stop offset="1" stop-color="#fff" stop-opacity="0"/></radialGradient>
<radialGradient id="g23" cx="0" cy="0" r="1" gradientUnits="userSpaceOnUse"><stop offset="0" stop-color="#fff" stop-opacity="0.2134"/><stop offset="0.05" stop-color="#fff" stop-opacity="0.2113"/><stop offset="0.09" stop-color="#fff" stop-opacity="0.205"/><stop offset="0.14" stop-color="#fff" stop-opacity="0.195"/><stop offset="0.18" stop-color="#fff" stop-opacity="0.1816"/><stop offset="0.23" stop-color="#fff" stop-opacity="0.1657"/><stop offset="0.27" stop-color="#fff" stop-opacity="0.1479"/><stop offset="0.32" stop-color="#fff" stop-opacity="0.1292"/><stop offset="0.36" stop-color="#fff" stop-opacity="0.1103"/><stop offset="0.41" stop-color="#fff" stop-opacity="0.092"/><stop offset="0.45" stop-color="#fff" stop-opacity="0.075"/><stop offset="0.5" stop-color="#fff" stop-opacity="0.0597"/><stop offset="0.55" stop-color="#fff" stop-opacity="0.0464"/><stop offset="0.59" stop-color="#fff" stop-opacity="0.0352"/><stop offset="0.64" stop-color="#fff" stop-opacity="0.0261"/><stop offset="0.68" stop-color="#fff" stop-opacity="0.0189"/><stop offset="0.73" stop-color="#fff" stop-opacity="0.0134"/><stop offset="0.77" stop-color="#fff" stop-opacity="0.0093"/><stop offset="0.82" stop-color="#fff" stop-opacity="0.0062"/><stop offset="0.86" stop-color="#fff" stop-opacity="0.0041"/><stop offset="0.91" stop-color="#fff" stop-opacity="0.0027"/><stop offset="0.95" stop-color="#fff" stop-opacity="0.0017"/><stop offset="1" stop-color="#fff" stop-opacity="0"/></radialGradient>
<radialGradient id="g24" cx="0" cy="0" r="1" gradientUnits="userSpaceOnUse"><stop offset="0" stop-color="#fff" stop-opacity="0.1878"/><stop offset="0.05" stop-color="#fff" stop-opacity="0.1859"/><stop offset="0.09" stop-color="#fff" stop-opacity="0.1803"/><stop offset="0.14" stop-color="#fff" stop-opacity="0.1714"/><stop offset="0.18" stop-color="#fff" stop-opacity="0.1595"/><stop offset="0.23" stop-color="#fff" stop-opacity="0.1453"/><stop offset="0.27" stop-color="#fff" stop-opacity="0.1295"/><stop offset="0.32" stop-color="#fff" stop-opacity="0.113"/><stop offset="0.36" stop-color="#fff" stop-opacity="0.0963"/><stop offset="0.41" stop-color="#fff" stop-opacity="0.0802"/><stop offset="0.45" stop-color="#fff" stop-opacity="0.0653"/><stop offset="0.5" stop-color="#fff" stop-opacity="0.0519"/><stop offset="0.55" stop-color="#fff" stop-opacity="0.0403"/><stop offset="0.59" stop-color="#fff" stop-opacity="0.0306"/><stop offset="0.64" stop-color="#fff" stop-opacity="0.0227"/><stop offset="0.68" stop-color="#fff" stop-opacity="0.0164"/><stop offset="0.73" stop-color="#fff" stop-opacity="0.0116"/><stop offset="0.77" stop-color="#fff" stop-opacity="0.008"/><stop offset="0.82" stop-color="#fff" stop-opacity="0.0054"/><stop offset="0.86" stop-color="#fff" stop-opacity="0.0036"/><stop offset="0.91" stop-color="#fff" stop-opacity="0.0023"/><stop offset="0.95" stop-color="#fff" stop-opacity="0.0015"/><stop offset="1" stop-color="#fff" stop-opacity="0"/></radialGradient>
<radialGradient id="g25" cx="0" cy="0" r="1" gradientUnits="userSpaceOnUse"><stop offset="0" stop-color="#fff" stop-opacity="0.1747"/><stop offset="0.05" stop-color="#fff" stop-opacity="0.1729"/><stop offset="0.09" stop-color="#fff" stop-opacity="0.1677"/><stop offset="0.14" stop-color="#fff" stop-opacity="0.1593"/><stop offset="0.18" stop-color="#fff" stop-opacity="0.1482"/><stop offset="0.23" stop-color="#fff" stop-opacity="0.1349"/><stop offset="0.27" stop-color="#fff" stop-opacity="0.1202"/><stop offset="0.32" stop-color="#fff" stop-opacity="0.1047"/><stop offset="0.36" stop-color="#fff" stop-opacity="0.0892"/><stop offset="0.41" stop-color="#fff" stop-opacity="0.0743"/><stop offset="0.45" stop-color="#fff" stop-opacity="0.0604"/><stop offset="0.5" stop-color="#fff" stop-opacity="0.048"/><stop offset="0.55" stop-color="#fff" stop-opacity="0.0373"/><stop offset="0.59" stop-color="#fff" stop-opacity="0.0283"/><stop offset="0.64" stop-color="#fff" stop-opacity="0.0209"/><stop offset="0.68" stop-color="#fff" stop-opacity="0.0152"/><stop offset="0.73" stop-color="#fff" stop-opacity="0.0107"/><stop offset="0.77" stop-color="#fff" stop-opacity="0.0074"/><stop offset="0.82" stop-color="#fff" stop-opacity="0.005"/><stop offset="0.86" stop-color="#fff" stop-opacity="0.0033"/><stop offset="0.91" stop-color="#fff" stop-opacity="0.0021"/><stop offset="0.95" stop-color="#fff" stop-opacity="0.0013"/><stop offset="1" stop-color="#fff" stop-opacity="0"/></radialGradient>
<radialGradient id="g26" cx="0" cy="0" r="1" gradientUnits="userSpaceOnUse"><stop offset="0" stop-color="#fff" stop-opacity="0.1479"/><stop offset="0.05" stop-color="#fff" stop-opacity="0.1463"/><stop offset="0.09" stop-color="#fff" stop-opacity="0.1418"/><stop offset="0.14" stop-color="#fff" stop-opacity="0.1346"/><stop offset="0.18" stop-color="#fff" stop-opacity="0.1251"/><stop offset="0.23" stop-color="#fff" stop-opacity="0.1138"/><stop offset="0.27" stop-color="#fff" stop-opacity="0.1012"/><stop offset="0.32" stop-color="#fff" stop-opacity="0.0881"/><stop offset="0.36" stop-color="#fff" stop-opacity="0.0749"/><stop offset="0.41" stop-color="#fff" stop-opacity="0.0623"/><stop offset="0.45" stop-color="#fff" stop-opacity="0.0506"/><stop offset="0.5" stop-color="#fff" stop-opacity="0.0402"/><stop offset="0.55" stop-color="#fff" stop-opacity="0.0312"/><stop offset="0.59" stop-color="#fff" stop-opacity="0.0236"/><stop offset="0.64" stop-color="#fff" stop-opacity="0.0175"/><stop offset="0.68" stop-color="#fff" stop-opacity="0.0126"/><stop offset="0.73" stop-color="#fff" stop-opacity="0.0089"/><stop offset="0.77" stop-color="#fff" stop-opacity="0.0062"/><stop offset="0.82" stop-color="#fff" stop-opacity="0.0042"/><stop offset="0.86" stop-color="#fff" stop-opacity="0.0028"/><stop offset="0.91" stop-color="#fff" stop-opacity="0.0018"/><stop offset="0.95" stop-color="#fff" stop-opacity="0.0011"/><stop offset="1" stop-color="#fff" stop-opacity="0"/></radialGradient>
<radialGradient id="g27" cx="0" cy="0" r="1" gradientUnits="userSpaceOnUse"><stop offset="0" stop-color="#fff" stop-opacity="0.1341"/><stop offset="0.05" stop-color="#fff" stop-opacity="0.1327"/><stop offset="0.09" stop-color="#fff" stop-opacity="0.1286"/><stop offset="0.14" stop-color="#fff" stop-opacity="0.122"/><stop offset="0.18" stop-color="#fff" stop-opacity="0.1133"/><stop offset="0.23" stop-color="#fff" stop-opacity="0.103"/><stop offset="0.27" stop-color="#fff" stop-opacity="0.0916"/><stop offset="0.32" stop-color="#fff" stop-opacity="0.0796"/><stop offset="0.36" stop-color="#fff" stop-opacity="0.0677"/><stop offset="0.41" stop-color="#fff" stop-opacity="0.0562"/><stop offset="0.45" stop-color="#fff" stop-opacity="0.0457"/><stop offset="0.5" stop-color="#fff" stop-opacity="0.0362"/><stop offset="0.55" stop-color="#fff" stop-opacity="0.0281"/><stop offset="0.59" stop-color="#fff" stop-opacity="0.0213"/><stop offset="0.64" stop-color="#fff" stop-opacity="0.0158"/><stop offset="0.68" stop-color="#fff" stop-opacity="0.0114"/><stop offset="0.73" stop-color="#fff" stop-opacity="0.0081"/><stop offset="0.77" stop-color="#fff" stop-opacity="0.0056"/><stop offset="0.82" stop-color="#fff" stop-opacity="0.0038"/><stop offset="0.86" stop-color="#fff" stop-opacity="0.0025"/><stop offset="0.91" stop-color="#fff" stop-opacity="0.0016"/><stop offset="0.95" stop-color="#fff" stop-opacity="0.001"/><stop offset="1" stop-color="#fff" stop-opacity="0"/></radialGradient>
<radialGradient id="g28" cx="0" cy="0" r="1" gradientUnits="userSpaceOnUse"><stop offset="0" stop-color="#fff" stop-opacity="0.1201"/><stop offset="0.05" stop-color="#fff" stop-opacity="0.1189"/><stop offset="0.09" stop-color="#fff" stop-opacity="0.1152"/><stop offset="0.14" stop-color="#fff" stop-opacity="0.1092"/><stop offset="0.18" stop-color="#fff" stop-opacity="0.1014"/><stop offset="0.23" stop-color="#fff" stop-opacity="0.0921"/><stop offset="0.27" stop-color="#fff" stop-opacity="0.0818"/><stop offset="0.32" stop-color="#fff" stop-opacity="0.0711"/><stop offset="0.36" stop-color="#fff" stop-opacity="0.0604"/><stop offset="0.41" stop-color="#fff" stop-opacity="0.0502"/><stop offset="0.45" stop-color="#fff" stop-opacity="0.0407"/><stop offset="0.5" stop-color="#fff" stop-opacity="0.0323"/><stop offset="0.55" stop-color="#fff" stop-opacity="0.025"/><stop offset="0.59" stop-color="#fff" stop-opacity="0.0189"/><stop offset="0.64" stop-color="#fff" stop-opacity="0.014"/><stop offset="0.68" stop-color="#fff" stop-opacity="0.0101"/><stop offset="0.73" stop-color="#fff" stop-opacity="0.0072"/><stop offset="0.77" stop-color="#fff" stop-opacity="0.0049"/><stop offset="0.82" stop-color="#fff" stop-opacity="0.0033"/><stop offset="0.86" stop-color="#fff" stop-opacity="0.0022"/><stop offset="0.91" stop-color="#fff" stop-opacity="0.0014"/><stop offset="0.95" stop-color="#fff" stop-opacity="0.0009"/><stop offset="1" stop-color="#fff" stop-opacity="0"/></radialGradient>
<radialGradient id="g29" cx="0" cy="0" r="1" gradientUnits="userSpaceOnUse"><stop offset="0" stop-color="#fff" stop-opacity="0.106"/><stop offset="0.05" stop-color="#fff" stop-opacity="0.1048"/><stop offset="0.09" stop-color="#fff" stop-opacity="0.1015"/><stop offset="0.14" stop-color="#fff" stop-opacity="0.0963"/><stop offset="0.18" stop-color="#fff" stop-opacity="0.0893"/><stop offset="0.23" stop-color="#fff" stop-opacity="0.0811"/><stop offset="0.27" stop-color="#fff" stop-opacity="0.072"/><stop offset="0.32" stop-color="#fff" stop-opacity="0.0625"/><stop offset="0.36" stop-color="#fff" stop-opacity="0.0531"/><stop offset="0.41" stop-color="#fff" stop-opacity="0.044"/><stop offset="0.45" stop-color="#fff" stop-opacity="0.0357"/><stop offset="0.5" stop-color="#fff" stop-opacity="0.0283"/><stop offset="0.55" stop-color="#fff" stop-opacity="0.0219"/><stop offset="0.59" stop-color="#fff" stop-opacity="0.0166"/><stop offset="0.64" stop-color="#fff" stop-opacity="0.0123"/><stop offset="0.68" stop-color="#fff" stop-opacity="0.0089"/><stop offset="0.73" stop-color="#fff" stop-opacity="0.0063"/><stop offset="0.77" stop-color="#fff" stop-opacity="0.0043"/><stop offset="0.82" stop-color="#fff" stop-opacity="0.0029"/><stop offset="0.86" stop-color="#fff" stop-opacity="0.0019"/><stop offset="0.91" stop-color="#fff" stop-opacity="0.0012"/><stop offset="0.95" stop-color="#fff" stop-opacity="0.0008"/><stop offset="1" stop-color="#fff" stop-opacity="0"/></radialGradient>
<radialGradient id="g30" cx="0" cy="0" r="1" gradientUnits="userSpaceOnUse"><stop offset="0" stop-color="#fff" stop-opacity="0.0769"/><stop offset="0.05" stop-color="#fff" stop-opacity="0.0761"/><stop offset="0.09" stop-color="#fff" stop-opacity="0.0736"/><stop offset="0.14" stop-color="#fff" stop-opacity="0.0697"/><stop offset="0.18" stop-color="#fff" stop-opacity="0.0646"/><stop offset="0.23" stop-color="#fff" stop-opacity="0.0586"/><stop offset="0.27" stop-color="#fff" stop-opacity="0.052"/><stop offset="0.32" stop-color="#fff" stop-opacity="0.0451"/><stop offset="0.36" stop-color="#fff" stop-opacity="0.0382"/><stop offset="0.41" stop-color="#fff" stop-opacity="0.0317"/><stop offset="0.45" stop-color="#fff" stop-opacity="0.0256"/><stop offset="0.5" stop-color="#fff" stop-opacity="0.0203"/><stop offset="0.55" stop-color="#fff" stop-opacity="0.0157"/><stop offset="0.59" stop-color="#fff" stop-opacity="0.0119"/><stop offset="0.64" stop-color="#fff" stop-opacity="0.0088"/><stop offset="0.68" stop-color="#fff" stop-opacity="0.0063"/><stop offset="0.73" stop-color="#fff" stop-opacity="0.0045"/><stop offset="0.77" stop-color="#fff" stop-opacity="0.0031"/><stop offset="0.82" stop-color="#fff" stop-opacity="0.0021"/><stop offset="0.86" stop-color="#fff" stop-opacity="0.0014"/><stop offset="0.91" stop-color="#fff" stop-opacity="0.0009"/><stop offset="0.95" stop-color="#fff" stop-opacity="0.0006"/><stop offset="1" stop-color="#fff" stop-opacity="0"/></radialGradient>
<radialGradient id="g31" cx="0" cy="0" r="1" gradientUnits="userSpaceOnUse"><stop offset="0" stop-color="#fff" stop-opacity="0.062"/><stop offset="0.05" stop-color="#fff" stop-opacity="0.0613"/><stop offset="0.09" stop-color="#fff" stop-opacity="0.0593"/><stop offset="0.14" stop-color="#fff" stop-opacity="0.0562"/><stop offset="0.18" stop-color="#fff" stop-opacity="0.0521"/><stop offset="0.23" stop-color="#fff" stop-opacity="0.0472"/><stop offset="0.27" stop-color="#fff" stop-opacity="0.0418"/><stop offset="0.32" stop-color="#fff" stop-opacity="0.0362"/><stop offset="0.36" stop-color="#fff" stop-opacity="0.0307"/><stop offset="0.41" stop-color="#fff" stop-opacity="0.0254"/><stop offset="0.45" stop-color="#fff" stop-opacity="0.0206"/><stop offset="0.5" stop-color="#fff" stop-opacity="0.0163"/><stop offset="0.55" stop-color="#fff" stop-opacity="0.0126"/><stop offset="0.59" stop-color="#fff" stop-opacity="0.0095"/><stop offset="0.64" stop-color="#fff" stop-opacity="0.007"/><stop offset="0.68" stop-color="#fff" stop-opacity="0.0051"/><stop offset="0.73" stop-color="#fff" stop-opacity="0.0036"/><stop offset="0.77" stop-color="#fff" stop-opacity="0.0025"/><stop offset="0.82" stop-color="#fff" stop-opacity="0.0017"/><stop offset="0.86" stop-color="#fff" stop-opacity="0.0011"/><stop offset="0.91" stop-color="#fff" stop-opacity="0.0007"/><stop offset="0.95" stop-color="#fff" stop-opacity="0.0004"/><stop offset="1" stop-color="#fff" stop-opacity="0"/></radialGradient>
<radialGradient id="g32" cx="0" cy="0" r="1" gradientUnits="userSpaceOnUse"><stop offset="0" stop-color="#fff" stop-opacity="0.0315"/><stop offset="0.05" stop-color="#fff" stop-opacity="0.0311"/><stop offset="0.09" stop-color="#fff" stop-opacity="0.0301"/><stop offset="0.14" stop-color="#fff" stop-opacity="0.0285"/><stop offset="0.18" stop-color="#fff" stop-opacity="0.0264"/><stop offset="0.23" stop-color="#fff" stop-opacity="0.0239"/><stop offset="0.27" stop-color="#fff" stop-opacity="0.0211"/><stop offset="0.32" stop-color="#fff" stop-opacity="0.0183"/><stop offset="0.36" stop-color="#fff" stop-opacity="0.0155"/><stop offset="0.41" stop-color="#fff" stop-opacity="0.0128"/><stop offset="0.45" stop-color="#fff" stop-opacity="0.0103"/><stop offset="0.5" stop-color="#fff" stop-opacity="0.0082"/><stop offset="0.55" stop-color="#fff" stop-opacity="0.0063"/><stop offset="0.59" stop-color="#fff" stop-opacity="0.0048"/><stop offset="0.64" stop-color="#fff" stop-opacity="0.0035"/><stop offset="0.68" stop-color="#fff" stop-opacity="0.0025"/><stop offset="0.73" stop-color="#fff" stop-opacity="0.0018"/><stop offset="0.77" stop-color="#fff" stop-opacity="0.0012"/><stop offset="0.82" stop-color="#fff" stop-opacity="0.0008"/><stop offset="0.86" stop-color="#fff" stop-opacity="0.0006"/><stop offset="0.91" stop-color="#fff" stop-opacity="0.0004"/><stop offset="0.95" stop-color="#fff" stop-opacity="0.0002"/><stop offset="1" stop-color="#fff" stop-opacity="0"/></radialGradient>
<radialGradient id="g33" cx="0" cy="0" r="1" gradientUnits="userSpaceOnUse"><stop offset="0" stop-color="#fff" stop-opacity="0.0392"/><stop offset="0.05" stop-color="#fff" stop-opacity="0.0388"/><stop offset="0.09" stop-color="#fff" stop-opacity="0.0375"/><stop offset="0.14" stop-color="#fff" stop-opacity="0.0355"/><stop offset="0.18" stop-color="#fff" stop-opacity="0.0329"/><stop offset="0.23" stop-color="#fff" stop-opacity="0.0297"/><stop offset="0.27" stop-color="#fff" stop-opacity="0.0263"/><stop offset="0.32" stop-color="#fff" stop-opacity="0.0228"/><stop offset="0.36" stop-color="#fff" stop-opacity="0.0193"/><stop offset="0.41" stop-color="#fff" stop-opacity="0.016"/><stop offset="0.45" stop-color="#fff" stop-opacity="0.0129"/><stop offset="0.5" stop-color="#fff" stop-opacity="0.0102"/><stop offset="0.55" stop-color="#fff" stop-opacity="0.0079"/><stop offset="0.59" stop-color="#fff" stop-opacity="0.006"/><stop offset="0.64" stop-color="#fff" stop-opacity="0.0044"/><stop offset="0.68" stop-color="#fff" stop-opacity="0.0032"/><stop offset="0.73" stop-color="#fff" stop-opacity="0.0022"/><stop offset="0.77" stop-color="#fff" stop-opacity="0.0015"/><stop offset="0.82" stop-color="#fff" stop-opacity="0.001"/><stop offset="0.86" stop-color="#fff" stop-opacity="0.0007"/><stop offset="0.91" stop-color="#fff" stop-opacity="0.0004"/><stop offset="0.95" stop-color="#fff" stop-opacity="0.0003"/><stop offset="1" stop-color="#fff" stop-opacity="0"/></radialGradient>
<radialGradient id="g34" cx="0" cy="0" r="1" gradientUnits="userSpaceOnUse"><stop offset="0" stop-color="#fff" stop-opacity="0.1813"/><stop offset="0.05" stop-color="#fff" stop-opacity="0.1794"/><stop offset="0.09" stop-color="#fff" stop-opacity="0.174"/><stop offset="0.14" stop-color="#fff" stop-opacity="0.1653"/><stop offset="0.18" stop-color="#fff" stop-opacity="0.1538"/><stop offset="0.23" stop-color="#fff" stop-opacity="0.1401"/><stop offset="0.27" stop-color="#fff" stop-opacity="0.1249"/><stop offset="0.32" stop-color="#fff" stop-opacity="0.1089"/><stop offset="0.36" stop-color="#fff" stop-opacity="0.0928"/><stop offset="0.41" stop-color="#fff" stop-opacity="0.0773"/><stop offset="0.45" stop-color="#fff" stop-opacity="0.0629"/><stop offset="0.5" stop-color="#fff" stop-opacity="0.05"/><stop offset="0.55" stop-color="#fff" stop-opacity="0.0388"/><stop offset="0.59" stop-color="#fff" stop-opacity="0.0294"/><stop offset="0.64" stop-color="#fff" stop-opacity="0.0218"/><stop offset="0.68" stop-color="#fff" stop-opacity="0.0158"/><stop offset="0.73" stop-color="#fff" stop-opacity="0.0112"/><stop offset="0.77" stop-color="#fff" stop-opacity="0.0077"/><stop offset="0.82" stop-color="#fff" stop-opacity="0.0052"/><stop offset="0.86" stop-color="#fff" stop-opacity="0.0034"/><stop offset="0.91" stop-color="#fff" stop-opacity="0.0022"/><stop offset="0.95" stop-color="#fff" stop-opacity="0.0014"/><stop offset="1" stop-color="#fff" stop-opacity="0"/></radialGradient>
<radialGradient id="g35" cx="0" cy="0" r="1" gradientUnits="userSpaceOnUse"><stop offset="0" stop-color="#fff" stop-opacity="0.3297"/><stop offset="0.05" stop-color="#fff" stop-opacity="0.3267"/><stop offset="0.09" stop-color="#fff" stop-opacity="0.3178"/><stop offset="0.14" stop-color="#fff" stop-opacity="0.3034"/><stop offset="0.18" stop-color="#fff" stop-opacity="0.284"/><stop offset="0.23" stop-color="#fff" stop-opacity="0.2606"/><stop offset="0.27" stop-color="#fff" stop-opacity="0.2342"/><stop offset="0.32" stop-color="#fff" stop-opacity="0.2059"/><stop offset="0.36" stop-color="#fff" stop-opacity="0.1769"/><stop offset="0.41" stop-color="#fff" stop-opacity="0.1485"/><stop offset="0.45" stop-color="#fff" stop-opacity="0.1218"/><stop offset="0.5" stop-color="#fff" stop-opacity="0.0975"/><stop offset="0.55" stop-color="#fff" stop-opacity="0.0761"/><stop offset="0.59" stop-color="#fff" stop-opacity="0.058"/><stop offset="0.64" stop-color="#fff" stop-opacity="0.0431"/><stop offset="0.68" stop-color="#fff" stop-opacity="0.0313"/><stop offset="0.73" stop-color="#fff" stop-opacity="0.0222"/><stop offset="0.77" stop-color="#fff" stop-opacity="0.0154"/><stop offset="0.82" stop-color="#fff" stop-opacity="0.0104"/><stop offset="0.86" stop-color="#fff" stop-opacity="0.0069"/><stop offset="0.91" stop-color="#fff" stop-opacity="0.0044"/><stop offset="0.95" stop-color="#fff" stop-opacity="0.0028"/><stop offset="1" stop-color="#fff" stop-opacity="0"/></radialGradient>
<radialGradient id="g36" cx="0" cy="0" r="1" gradientUnits="userSpaceOnUse"><stop offset="0" stop-color="#fff" stop-opacity="0.4055"/><stop offset="0.05" stop-color="#fff" stop-opacity="0.402"/><stop offset="0.09" stop-color="#fff" stop-opacity="0.3917"/><stop offset="0.14" stop-color="#fff" stop-opacity="0.375"/><stop offset="0.18" stop-color="#fff" stop-opacity="0.3523"/><stop offset="0.23" stop-color="#fff" stop-opacity="0.3246"/><stop offset="0.27" stop-color="#fff" stop-opacity="0.2931"/><stop offset="0.32" stop-color="#fff" stop-opacity="0.2589"/><stop offset="0.36" stop-color="#fff" stop-opacity="0.2236"/><stop offset="0.41" stop-color="#fff" stop-opacity="0.1886"/><stop offset="0.45" stop-color="#fff" stop-opacity="0.1553"/><stop offset="0.5" stop-color="#fff" stop-opacity="0.1248"/><stop offset="0.55" stop-color="#fff" stop-opacity="0.0978"/><stop offset="0.59" stop-color="#fff" stop-opacity="0.0747"/><stop offset="0.64" stop-color="#fff" stop-opacity="0.0557"/><stop offset="0.68" stop-color="#fff" stop-opacity="0.0405"/><stop offset="0.73" stop-color="#fff" stop-opacity="0.0288"/><stop offset="0.77" stop-color="#fff" stop-opacity="0.0199"/><stop offset="0.82" stop-color="#fff" stop-opacity="0.0135"/><stop offset="0.86" stop-color="#fff" stop-opacity="0.0089"/><stop offset="0.91" stop-color="#fff" stop-opacity="0.0058"/><stop offset="0.95" stop-color="#fff" stop-opacity="0.0036"/><stop offset="1" stop-color="#fff" stop-opacity="0"/></radialGradient>
<radialGradient id="g37" cx="0" cy="0" r="1" gradientUnits="userSpaceOnUse"><stop offset="0" stop-color="#fff" stop-opacity="0.5132"/><stop offset="0.05" stop-color="#fff" stop-opacity="0.5093"/><stop offset="0.09" stop-color="#fff" stop-opacity="0.4976"/><stop offset="0.14" stop-color="#fff" stop-opacity="0.4783"/><stop offset="0.18" stop-color="#fff" stop-opacity="0.452"/><stop offset="0.23" stop-color="#fff" stop-opacity="0.4193"/><stop offset="0.27" stop-color="#fff" stop-opacity="0.3814"/><stop offset="0.32" stop-color="#fff" stop-opacity="0.3396"/><stop offset="0.36" stop-color="#fff" stop-opacity="0.2956"/><stop offset="0.41" stop-color="#fff" stop-opacity="0.2513"/><stop offset="0.45" stop-color="#fff" stop-opacity="0.2084"/><stop offset="0.5" stop-color="#fff" stop-opacity="0.1685"/><stop offset="0.55" stop-color="#fff" stop-opacity="0.1328"/><stop offset="0.59" stop-color="#fff" stop-opacity="0.102"/><stop offset="0.64" stop-color="#fff" stop-opacity="0.0763"/><stop offset="0.68" stop-color="#fff" stop-opacity="0.0557"/><stop offset="0.73" stop-color="#fff" stop-opacity="0.0396"/><stop offset="0.77" stop-color="#fff" stop-opacity="0.0275"/><stop offset="0.82" stop-color="#fff" stop-opacity="0.0186"/><stop offset="0.86" stop-color="#fff" stop-opacity="0.0123"/><stop offset="0.91" stop-color="#fff" stop-opacity="0.008"/><stop offset="0.95" stop-color="#fff" stop-opacity="0.005"/><stop offset="1" stop-color="#fff" stop-opacity="0"/></radialGradient>
<radialGradient id="g38" cx="0" cy="0" r="1" gradientUnits="userSpaceOnUse"><stop offset="0" stop-color="#fff" stop-opacity="0.5323"/><stop offset="0.05" stop-color="#fff" stop-opacity="0.5283"/><stop offset="0.09" stop-color="#fff" stop-opacity="0.5164"/><stop offset="0.14" stop-color="#fff" stop-opacity="0.4968"/><stop offset="0.18" stop-color="#fff" stop-opacity="0.47"/><stop offset="0.23" stop-color="#fff" stop-opacity="0.4366"/><stop offset="0.27" stop-color="#fff" stop-opacity="0.3976"/><stop offset="0.32" stop-color="#fff" stop-opacity="0.3546"/><stop offset="0.36" stop-color="#fff" stop-opacity="0.3092"/><stop offset="0.41" stop-color="#fff" stop-opacity="0.2633"/><stop offset="0.45" stop-color="#fff" stop-opacity="0.2187"/><stop offset="0.5" stop-color="#fff" stop-opacity="0.177"/><stop offset="0.55" stop-color="#fff" stop-opacity="0.1396"/><stop offset="0.59" stop-color="#fff" stop-opacity="0.1073"/><stop offset="0.64" stop-color="#fff" stop-opacity="0.0804"/><stop offset="0.68" stop-color="#fff" stop-opacity="0.0587"/><stop offset="0.73" stop-color="#fff" stop-opacity="0.0418"/><stop offset="0.77" stop-color="#fff" stop-opacity="0.029"/><stop offset="0.82" stop-color="#fff" stop-opacity="0.0197"/><stop offset="0.86" stop-color="#fff" stop-opacity="0.013"/><stop offset="0.91" stop-color="#fff" stop-opacity="0.0084"/><stop offset="0.95" stop-color="#fff" stop-opacity="0.0053"/><stop offset="1" stop-color="#fff" stop-opacity="0"/></radialGradient>
<radialGradient id="g39" cx="0" cy="0" r="1" gradientUnits="userSpaceOnUse"><stop offset="0" stop-color="#fff" stop-opacity="0.4934"/><stop offset="0.05" stop-color="#fff" stop-opacity="0.4895"/><stop offset="0.09" stop-color="#fff" stop-opacity="0.478"/><stop offset="0.14" stop-color="#fff" stop-opacity="0.4591"/><stop offset="0.18" stop-color="#fff" stop-opacity="0.4333"/><stop offset="0.23" stop-color="#fff" stop-opacity="0.4015"/><stop offset="0.27" stop-color="#fff" stop-opacity="0.3646"/><stop offset="0.32" stop-color="#fff" stop-opacity="0.3242"/><stop offset="0.36" stop-color="#fff" stop-opacity="0.2818"/><stop offset="0.41" stop-color="#fff" stop-opacity="0.2392"/><stop offset="0.45" stop-color="#fff" stop-opacity="0.1981"/><stop offset="0.5" stop-color="#fff" stop-opacity="0.16"/><stop offset="0.55" stop-color="#fff" stop-opacity="0.1259"/><stop offset="0.59" stop-color="#fff" stop-opacity="0.0966"/><stop offset="0.64" stop-color="#fff" stop-opacity="0.0722"/><stop offset="0.68" stop-color="#fff" stop-opacity="0.0527"/><stop offset="0.73" stop-color="#fff" stop-opacity="0.0375"/><stop offset="0.77" stop-color="#fff" stop-opacity="0.026"/><stop offset="0.82" stop-color="#fff" stop-opacity="0.0176"/><stop offset="0.86" stop-color="#fff" stop-opacity="0.0116"/><stop offset="0.91" stop-color="#fff" stop-opacity="0.0075"/><stop offset="0.95" stop-color="#fff" stop-opacity="0.0048"/><stop offset="1" stop-color="#fff" stop-opacity="0"/></radialGradient>
<radialGradient id="g40" cx="0" cy="0" r="1" gradientUnits="userSpaceOnUse"><stop offset="0" stop-color="#fff" stop-opacity="0.4512"/><stop offset="0.05" stop-color="#fff" stop-opacity="0.4475"/><stop offset="0.09" stop-color="#fff" stop-opacity="0.4365"/><stop offset="0.14" stop-color="#fff" stop-opacity="0.4185"/><stop offset="0.18" stop-color="#fff" stop-opacity="0.3942"/><stop offset="0.23" stop-color="#fff" stop-opacity="0.3642"/><stop offset="0.27" stop-color="#fff" stop-opacity="0.3298"/><stop offset="0.32" stop-color="#fff" stop-opacity="0.2923"/><stop offset="0.36" stop-color="#fff" stop-opacity="0.2533"/><stop offset="0.41" stop-color="#fff" stop-opacity="0.2143"/><stop offset="0.45" stop-color="#fff" stop-opacity="0.177"/><stop offset="0.5" stop-color="#fff" stop-opacity="0.1426"/><stop offset="0.55" stop-color="#fff" stop-opacity="0.112"/><stop offset="0.59" stop-color="#fff" stop-opacity="0.0857"/><stop offset="0.64" stop-color="#fff" stop-opacity="0.064"/><stop offset="0.68" stop-color="#fff" stop-opacity="0.0466"/><stop offset="0.73" stop-color="#fff" stop-opacity="0.0331"/><stop offset="0.77" stop-color="#fff" stop-opacity="0.023"/><stop offset="0.82" stop-color="#fff" stop-opacity="0.0156"/><stop offset="0.86" stop-color="#fff" stop-opacity="0.0103"/><stop offset="0.91" stop-color="#fff" stop-opacity="0.0066"/><stop offset="0.95" stop-color="#fff" stop-opacity="0.0042"/><stop offset="1" stop-color="#fff" stop-opacity="0"/></radialGradient>
<radialGradient id="g41" cx="0" cy="0" r="1" gradientUnits="userSpaceOnUse"><stop offset="0" stop-color="#fff" stop-opacity="0.3812"/><stop offset="0.05" stop-color="#fff" stop-opacity="0.3779"/><stop offset="0.09" stop-color="#fff" stop-opacity="0.368"/><stop offset="0.14" stop-color="#fff" stop-opacity="0.3519"/><stop offset="0.18" stop-color="#fff" stop-opacity="0.3303"/><stop offset="0.23" stop-color="#fff" stop-opacity="0.3039"/><stop offset="0.27" stop-color="#fff" stop-opacity="0.274"/><stop offset="0.32" stop-color="#fff" stop-opacity="0.2416"/><stop offset="0.36" stop-color="#fff" stop-opacity="0.2084"/><stop offset="0.41" stop-color="#fff" stop-opacity="0.1755"/><stop offset="0.45" stop-color="#fff" stop-opacity="0.1443"/><stop offset="0.5" stop-color="#fff" stop-opacity="0.1158"/><stop offset="0.55" stop-color="#fff" stop-opacity="0.0906"/><stop offset="0.59" stop-color="#fff" stop-opacity="0.0692"/><stop offset="0.64" stop-color="#fff" stop-opacity="0.0515"/><stop offset="0.68" stop-color="#fff" stop-opacity="0.0375"/><stop offset="0.73" stop-color="#fff" stop-opacity="0.0266"/><stop offset="0.77" stop-color="#fff" stop-opacity="0.0184"/><stop offset="0.82" stop-color="#fff" stop-opacity="0.0125"/><stop offset="0.86" stop-color="#fff" stop-opacity="0.0082"/><stop offset="0.91" stop-color="#fff" stop-opacity="0.0053"/><stop offset="0.95" stop-color="#fff" stop-opacity="0.0034"/><stop offset="1" stop-color="#fff" stop-opacity="0"/></radialGradient>
<radialGradient id="g42" cx="0" cy="0" r="1" gradientUnits="userSpaceOnUse"><stop offset="0" stop-color="#fff" stop-opacity="0.356"/><stop offset="0.05" stop-color="#fff" stop-opacity="0.3528"/><stop offset="0.09" stop-color="#fff" stop-opacity="0.3434"/><stop offset="0.14" stop-color="#fff" stop-opacity="0.3281"/><stop offset="0.18" stop-color="#fff" stop-opacity="0.3075"/><stop offset="0.23" stop-color="#fff" stop-opacity="0.2826"/><stop offset="0.27" stop-color="#fff" stop-opacity="0.2543"/><stop offset="0.32" stop-color="#fff" stop-opacity="0.224"/><stop offset="0.36" stop-color="#fff" stop-opacity="0.1928"/><stop offset="0.41" stop-color="#fff" stop-opacity="0.1621"/><stop offset="0.45" stop-color="#fff" stop-opacity="0.1331"/><stop offset="0.5" stop-color="#fff" stop-opacity="0.1067"/><stop offset="0.55" stop-color="#fff" stop-opacity="0.0834"/><stop offset="0.59" stop-color="#fff" stop-opacity="0.0636"/><stop offset="0.64" stop-color="#fff" stop-opacity="0.0474"/><stop offset="0.68" stop-color="#fff" stop-opacity="0.0344"/><stop offset="0.73" stop-color="#fff" stop-opacity="0.0244"/><stop offset="0.77" stop-color="#fff" stop-opacity="0.0169"/><stop offset="0.82" stop-color="#fff" stop-opacity="0.0114"/><stop offset="0.86" stop-color="#fff" stop-opacity="0.0076"/><stop offset="0.91" stop-color="#fff" stop-opacity="0.0049"/><stop offset="0.95" stop-color="#fff" stop-opacity="0.0031"/><stop offset="1" stop-color="#fff" stop-opacity="0"/></radialGradient>
<radialGradient id="g43" cx="0" cy="0" r="1" gradientUnits="userSpaceOnUse"><stop offset="0" stop-color="#fff" stop-opacity="0.3023"/><stop offset="0.05" stop-color="#fff" stop-opacity="0.2995"/><stop offset="0.09" stop-color="#fff" stop-opacity="0.2912"/><stop offset="0.14" stop-color="#fff" stop-opacity="0.2777"/><stop offset="0.18" stop-color="#fff" stop-opacity="0.2597"/><stop offset="0.23" stop-color="#fff" stop-opacity="0.2379"/><stop offset="0.27" stop-color="#fff" stop-opacity="0.2135"/><stop offset="0.32" stop-color="#fff" stop-opacity="0.1873"/><stop offset="0.36" stop-color="#fff" stop-opacity="0.1607"/><stop offset="0.41" stop-color="#fff" stop-opacity="0.1347"/><stop offset="0.45" stop-color="#fff" stop-opacity="0.1103"/><stop offset="0.5" stop-color="#fff" stop-opacity="0.0882"/><stop offset="0.55" stop-color="#fff" stop-opacity="0.0688"/><stop offset="0.59" stop-color="#fff" stop-opacity="0.0524"/><stop offset="0.64" stop-color="#fff" stop-opacity="0.0389"/><stop offset="0.68" stop-color="#fff" stop-opacity="0.0282"/><stop offset="0.73" stop-color="#fff" stop-opacity="0.02"/><stop offset="0.77" stop-color="#fff" stop-opacity="0.0138"/><stop offset="0.82" stop-color="#fff" stop-opacity="0.0094"/><stop offset="0.86" stop-color="#fff" stop-opacity="0.0062"/><stop offset="0.91" stop-color="#fff" stop-opacity="0.004"/><stop offset="0.95" stop-color="#fff" stop-opacity="0.0025"/><stop offset="1" stop-color="#fff" stop-opacity="0"/></radialGradient>
<radialGradient id="g44" cx="0" cy="0" r="1" gradientUnits="userSpaceOnUse"><stop offset="0" stop-color="#fff" stop-opacity="0.2442"/><stop offset="0.05" stop-color="#fff" stop-opacity="0.2418"/><stop offset="0.09" stop-color="#fff" stop-opacity="0.2348"/><stop offset="0.14" stop-color="#fff" stop-opacity="0.2236"/><stop offset="0.18" stop-color="#fff" stop-opacity="0.2085"/><stop offset="0.23" stop-color="#fff" stop-opacity="0.1905"/><stop offset="0.27" stop-color="#fff" stop-opacity="0.1704"/><stop offset="0.32" stop-color="#fff" stop-opacity="0.149"/><stop offset="0.36" stop-color="#fff" stop-opacity="0.1274"/><stop offset="0.41" stop-color="#fff" stop-opacity="0.1065"/><stop offset="0.45" stop-color="#fff" stop-opacity="0.0869"/><stop offset="0.5" stop-color="#fff" stop-opacity="0.0693"/><stop offset="0.55" stop-color="#fff" stop-opacity="0.0539"/><stop offset="0.59" stop-color="#fff" stop-opacity="0.041"/><stop offset="0.64" stop-color="#fff" stop-opacity="0.0304"/><stop offset="0.68" stop-color="#fff" stop-opacity="0.022"/><stop offset="0.73" stop-color="#fff" stop-opacity="0.0156"/><stop offset="0.77" stop-color="#fff" stop-opacity="0.0108"/><stop offset="0.82" stop-color="#fff" stop-opacity="0.0073"/><stop offset="0.86" stop-color="#fff" stop-opacity="0.0048"/><stop offset="0.91" stop-color="#fff" stop-opacity="0.0031"/><stop offset="0.95" stop-color="#fff" stop-opacity="0.002"/><stop offset="1" stop-color="#fff" stop-opacity="0"/></radialGradient>
<radialGradient id="g45" cx="0" cy="0" r="1" gradientUnits="userSpaceOnUse"><stop offset="0" stop-color="#fff" stop-opacity="0.1131"/><stop offset="0.05" stop-color="#fff" stop-opacity="0.1119"/><stop offset="0.09" stop-color="#fff" stop-opacity="0.1084"/><stop offset="0.14" stop-color="#fff" stop-opacity="0.1028"/><stop offset="0.18" stop-color="#fff" stop-opacity="0.0954"/><stop offset="0.23" stop-color="#fff" stop-opacity="0.0866"/><stop offset="0.27" stop-color="#fff" stop-opacity="0.0769"/><stop offset="0.32" stop-color="#fff" stop-opacity="0.0668"/><stop offset="0.36" stop-color="#fff" stop-opacity="0.0567"/><stop offset="0.41" stop-color="#fff" stop-opacity="0.0471"/><stop offset="0.45" stop-color="#fff" stop-opacity="0.0382"/><stop offset="0.5" stop-color="#fff" stop-opacity="0.0303"/><stop offset="0.55" stop-color="#fff" stop-opacity="0.0235"/><stop offset="0.59" stop-color="#fff" stop-opacity="0.0178"/><stop offset="0.64" stop-color="#fff" stop-opacity="0.0131"/><stop offset="0.68" stop-color="#fff" stop-opacity="0.0095"/><stop offset="0.73" stop-color="#fff" stop-opacity="0.0067"/><stop offset="0.77" stop-color="#fff" stop-opacity="0.0046"/><stop offset="0.82" stop-color="#fff" stop-opacity="0.0031"/><stop offset="0.86" stop-color="#fff" stop-opacity="0.0021"/><stop offset="0.91" stop-color="#fff" stop-opacity="0.0013"/><stop offset="0.95" stop-color="#fff" stop-opacity="0.0008"/><stop offset="1" stop-color="#fff" stop-opacity="0"/></radialGradient>
<radialGradient id="g46" cx="0" cy="0" r="1" gradientUnits="userSpaceOnUse"><stop offset="0" stop-color="#fff" stop-opacity="0.1306"/><stop offset="0.05" stop-color="#fff" stop-opacity="0.1293"/><stop offset="0.09" stop-color="#fff" stop-opacity="0.1253"/><stop offset="0.14" stop-color="#fff" stop-opacity="0.1188"/><stop offset="0.18" stop-color="#fff" stop-opacity="0.1104"/><stop offset="0.23" stop-color="#fff" stop-opacity="0.1003"/><stop offset="0.27" stop-color="#fff" stop-opacity="0.0891"/><stop offset="0.32" stop-color="#fff" stop-opacity="0.0775"/><stop offset="0.36" stop-color="#fff" stop-opacity="0.0659"/><stop offset="0.41" stop-color="#fff" stop-opacity="0.0547"/><stop offset="0.45" stop-color="#fff" stop-opacity="0.0444"/><stop offset="0.5" stop-color="#fff" stop-opacity="0.0353"/><stop offset="0.55" stop-color="#fff" stop-opacity="0.0273"/><stop offset="0.59" stop-color="#fff" stop-opacity="0.0207"/><stop offset="0.64" stop-color="#fff" stop-opacity="0.0153"/><stop offset="0.68" stop-color="#fff" stop-opacity="0.0111"/><stop offset="0.73" stop-color="#fff" stop-opacity="0.0078"/><stop offset="0.77" stop-color="#fff" stop-opacity="0.0054"/><stop offset="0.82" stop-color="#fff" stop-opacity="0.0037"/><stop offset="0.86" stop-color="#fff" stop-opacity="0.0024"/><stop offset="0.91" stop-color="#fff" stop-opacity="0.0016"/><stop offset="0.95" stop-color="#fff" stop-opacity="0.001"/><stop offset="1" stop-color="#fff" stop-opacity="0"/></radialGradient>
<radialGradient id="g47" cx="0" cy="0" r="1" gradientUnits="userSpaceOnUse"><stop offset="0" stop-color="#fff" stop-opacity="0.8775"/><stop offset="0.05" stop-color="#fff" stop-opacity="0.8746"/><stop offset="0.09" stop-color="#fff" stop-opacity="0.8657"/><stop offset="0.14" stop-color="#fff" stop-opacity="0.8501"/><stop offset="0.18" stop-color="#fff" stop-opacity="0.8269"/><stop offset="0.23" stop-color="#fff" stop-opacity="0.7951"/><stop offset="0.27" stop-color="#fff" stop-opacity="0.7536"/><stop offset="0.32" stop-color="#fff" stop-opacity="0.7018"/><stop offset="0.36" stop-color="#fff" stop-opacity="0.6402"/><stop offset="0.41" stop-color="#fff" stop-opacity="0.5701"/><stop offset="0.45" stop-color="#fff" stop-opacity="0.4943"/><stop offset="0.5" stop-color="#fff" stop-opacity="0.4163"/><stop offset="0.55" stop-color="#fff" stop-opacity="0.34"/><stop offset="0.59" stop-color="#fff" stop-opacity="0.2693"/><stop offset="0.64" stop-color="#fff" stop-opacity="0.2067"/><stop offset="0.68" stop-color="#fff" stop-opacity="0.1539"/><stop offset="0.73" stop-color="#fff" stop-opacity="0.1112"/><stop offset="0.77" stop-color="#fff" stop-opacity="0.0781"/><stop offset="0.82" stop-color="#fff" stop-opacity="0.0534"/><stop offset="0.86" stop-color="#fff" stop-opacity="0.0355"/><stop offset="0.91" stop-color="#fff" stop-opacity="0.0231"/><stop offset="0.95" stop-color="#fff" stop-opacity="0.0146"/><stop offset="1" stop-color="#fff" stop-opacity="0"/></radialGradient>
<filter id="cmap" x="0" y="0" width="1" height="1" color-interpolation-filters="sRGB"><feComponentTransfer>
<feFuncR type="table" tableValues="0.992 0.992 0.992 0.992 0.992 0.992 0.991 0.991 0.991 0.991 0.991 0.991 0.991 0.99 0.99 0.99 0.99 0.99 0.99 0.99 0.989 0.989 0.989 0.989 0.989 0.989 0.989 0.988 0.988 0.988 0.987 0.987 0.986 0.986 0.985 0.985 0.984 0.984 0.983 0.983 0.982 0.982 0.981 0.981 0.98 0.98 0.979 0.978 0.978 0.977 0.977 0.976 0.974 0.973 0.972 0.971 0.969 0.968 0.967 0.965 0.964 0.963 0.961 0.96 0.958 0.957 0.955 0.954 0.952 0.949 0.946 0.944 0.941 0.938 0.935 0.932 0.929 0.926 0.923 0.92 0.917 0.913 0.907 0.902 0.896 0.89 0.883 0.877 0.87 0.863 0.857 0.849 0.84 0.829 0.819 0.807 0.796 0.784 0.771 0.759 0.741 0.718 0.694 0.669 0.644 0.617 0.59 0.564 0.536 0.507 0.477 0.455 0.455 0.455 0.455 0.455 0.455 0.455 0.455 0.455 0.455 0.455 0.455 0.455 0.455 0.455 0.455 0.455 0.455"/>
<feFuncG type="table" tableValues="0.957 0.955 0.954 0.952 0.95 0.949 0.947 0.945 0.944 0.942 0.94 0.939 0.937 0.935 0.933 0.931 0.93 0.928 0.926 0.924 0.922 0.92 0.918 0.916 0.915 0.913 0.911 0.909 0.907 0.904 0.9 0.897 0.893 0.89 0.887 0.883 0.879 0.876 0.872 0.869 0.865 0.861 0.857 0.853 0.849 0.846 0.842 0.838 0.833 0.829 0.825 0.819 0.813 0.806 0.799 0.793 0.786 0.779 0.772 0.764 0.757 0.75 0.742 0.734 0.727 0.719 0.711 0.702 0.694 0.686 0.677 0.668 0.66 0.651 0.641 0.632 0.622 0.613 0.603 0.593 0.582 0.572 0.56 0.548 0.536 0.524 0.512 0.499 0.486 0.472 0.458 0.444 0.431 0.417 0.404 0.39 0.375 0.36 0.345 0.329 0.315 0.302 0.289 0.276 0.262 0.247 0.233 0.222 0.21 0.198 0.185 0.176 0.176 0.176 0.176 0.176 0.176 0.176 0.176 0.176 0.176 0.176 0.176 0.176 0.176 0.176 0.176 0.176 0.176"/>
<feFuncB type="table" tableValues="0.918 0.914 0.911 0.908 0.905 0.901 0.898 0.895 0.891 0.888 0.884 0.881 0.877 0.874 0.87 0.867 0.863 0.86 0.856 0.852 0.848 0.845 0.841 0.837 0.833 0.829 0.825 0.821 0.817 0.811 0.805 0.799 0.792 0.785 0.779 0.772 0.765 0.758 0.752 0.745 0.737 0.73 0.723 0.716 0.708 0.701 0.693 0.685 0.678 0.67 0.662 0.652 0.641 0.631 0.62 0.609 0.597 0.586 0.574 0.563 0.551 0.539 0.526 0.514 0.501 0.488 0.475 0.462 0.449 0.437 0.425 0.412 0.4 0.387 0.373 0.36 0.346 0.332 0.318 0.303 0.288 0.273 0.261 0.247 0.234 0.22 0.206 0.192 0.177 0.162 0.147 0.131 0.12 0.112 0.104 0.096 0.087 0.078 0.069 0.059 0.054 0.053 0.052 0.051 0.049 0.048 0.047 0.046 0.045 0.045 0.044 0.043 0.043 0.043 0.043 0.043 0.043 0.043 0.043 0.043 0.043 0.043 0.043 0.043 0.043 0.043 0.043 0.043 0.043"/>
</feComponentTransfer></filter>
<filter id="b3" x="-50%" y="-50%" width="200%" height="200%" color-interpolation-filters="sRGB"><feGaussianBlur stdDeviation="3"/></filter>
<filter id="b5" x="-50%" y="-50%" width="200%" height="200%" color-interpolation-filters="sRGB"><feGaussianBlur stdDeviation="5"/></filter>
<filter id="b7" x="-50%" y="-50%" width="200%" height="200%" color-interpolation-filters="sRGB"><feGaussianBlur stdDeviation="7"/></filter>
<filter id="b9" x="-50%" y="-50%" width="200%" height="200%" color-interpolation-filters="sRGB"><feGaussianBlur stdDeviation="9"/></filter>
<filter id="b12" x="-50%" y="-50%" width="200%" height="200%" color-interpolation-filters="sRGB"><feGaussianBlur stdDeviation="12"/></filter>
<clipPath id="cpa"><rect x="88" y="230" width="551.8" height="478.6"/></clipPath>
<clipPath id="cpb"><rect x="1167.4" y="223.9" width="540.3" height="473.1"/></clipPath>
<clipPath id="cpc"><rect x="656.2" y="1097.9" width="540.1" height="470.3"/></clipPath>
</defs>
<rect width="2070" height="1705" fill="#fff"/>
<g clip-path="url(#cpa)"><g filter="url(#cmap)">
<rect x="86" y="228" width="555.8" height="482.6" fill="#000"/>
<circle r="1" fill="url(#g1)" transform="translate(169 300) rotate(86.4) scale(39.6 44.55)"/>
<circle r="1" fill="url(#g2)" transform="translate(169.6 310) rotate(86.4) scale(39.6 44.55)"/>
<circle r="1" fill="url(#g3)" transform="translate(170.3 320) rotate(85.5) scale(39.6 44.55)"/>
<circle r="1" fill="url(#g4)" transform="translate(171.1 329.9) rotate(85.5) scale(39.6 44.55)"/>
<circle r="1" fill="url(#g5)" transform="translate(171.9 339.9) rotate(85) scale(39.6 44.08)"/>
<circle r="1" fill="url(#g6)" transform="translate(172.8 349.9) rotate(81.8) scale(39.6 43.11)"/>
<circle r="1" fill="url(#g7)" transform="translate(176.7 358.9) rotate(62.2) scale(39.6 42.47)"/>
<circle r="1" fill="url(#g8)" transform="translate(181.3 367.8) rotate(62.2) scale(39.6 41.92)"/>
<circle r="1" fill="url(#g9)" transform="translate(186 376.6) rotate(61.5) scale(39.6 41.37)"/>
<circle r="1" fill="url(#g10)" transform="translate(191.3 385.1) rotate(56.3) scale(39.6 40.84)"/>
<circle r="1" fill="url(#g11)" transform="translate(196.9 393.4) rotate(56.3) scale(39.6 40.31)"/>
<circle r="1" fill="url(#g12)" transform="translate(202.4 401.7) rotate(56.3) scale(39.6 39.79)"/>
<circle r="1" fill="url(#g13)" transform="translate(208.4 409.7) rotate(51.2) scale(39.6 39.37)"/>
<circle r="1" fill="url(#g14)" transform="translate(214.7 417.5) rotate(51.2) scale(39.6 39.01)"/>
<circle r="1" fill="url(#g14)" transform="translate(220.9 425.3) rotate(51.2) scale(39.6 38.65)"/>
<circle r="1" fill="url(#g15)" transform="translate(227.2 433.1) rotate(49.4) scale(39.6 38.29)"/>
<circle r="1" fill="url(#g15)" transform="translate(234 440.5) rotate(47.4) scale(39.6 38.12)"/>
<circle r="1" fill="url(#g15)" transform="translate(240.7 447.8) rotate(47.4) scale(39.6 37.96)"/>
<circle r="1" fill="url(#g15)" transform="translate(247.5 455.2) rotate(47.4) scale(39.6 37.8)"/>
<circle r="1" fill="url(#g15)" transform="translate(254.3 462.5) rotate(46.3) scale(39.6 37.64)"/>
<circle r="1" fill="url(#g14)" transform="translate(261.4 469.5) rotate(44.2) scale(39.6 37.47)"/>
<circle r="1" fill="url(#g14)" transform="translate(268.6 476.5) rotate(44.2) scale(39.6 37.3)"/>
<circle r="1" fill="url(#g14)" transform="translate(275.8 483.5) rotate(44.2) scale(39.6 37.13)"/>
<circle r="1" fill="url(#g13)" transform="translate(282.9 490.4) rotate(43.1) scale(39.6 36.95)"/>
<circle r="1" fill="url(#g12)" transform="translate(290.3 497.2) rotate(42.3) scale(39.6 36.76)"/>
<circle r="1" fill="url(#g11)" transform="translate(297.7 503.9) rotate(42.3) scale(39.6 36.57)"/>
<circle r="1" fill="url(#g16)" transform="translate(305.1 510.6) rotate(42.3) scale(39.6 36.37)"/>
<circle r="1" fill="url(#g9)" transform="translate(312.8 517) rotate(37.9) scale(39.6 36.07)"/>
<circle r="1" fill="url(#g17)" transform="translate(320.7 523.1) rotate(37.9) scale(39.6 35.7)"/>
<circle r="1" fill="url(#g18)" transform="translate(328.6 529.3) rotate(37.9) scale(39.6 35.33)"/>
<circle r="1" fill="url(#g19)" transform="translate(336.6 535.3) rotate(33.8) scale(39.6 34.96)"/>
<circle r="1" fill="url(#g6)" transform="translate(345.1 540.5) rotate(31.2) scale(39.6 34.66)"/>
<circle r="1" fill="url(#g20)" transform="translate(353.7 545.7) rotate(31.2) scale(39.6 34.37)"/>
<circle r="1" fill="url(#g21)" transform="translate(362.2 550.9) rotate(31.1) scale(39.6 34.04)"/>
<circle r="1" fill="url(#g22)" transform="translate(370.8 556) rotate(31.1) scale(39.6 33.71)"/>
<circle r="1" fill="url(#g23)" transform="translate(379.4 561.2) rotate(31.1) scale(39.6 33.37)"/>
<circle r="1" fill="url(#g24)" transform="translate(387.9 566.4) rotate(30.2) scale(39.6 33.04)"/>
<circle r="1" fill="url(#g25)" transform="translate(396.7 571.1) rotate(28.2) scale(39.6 32.27)"/>
<circle r="1" fill="url(#g26)" transform="translate(405.5 575.9) rotate(28.2) scale(39.6 31.44)"/>
<circle r="1" fill="url(#g27)" transform="translate(414.3 580.6) rotate(28.2) scale(39.6 30.61)"/>
<circle r="1" fill="url(#g28)" transform="translate(423.7 584.1) rotate(17.2) scale(39.6 29.84)"/>
<circle r="1" fill="url(#g29)" transform="translate(433.2 587) rotate(17.2) scale(39.6 29.1)"/>
<circle r="1" fill="url(#g3)" transform="translate(442.8 590) rotate(17.2) scale(39.6 28.36)"/>
<circle r="1" fill="url(#g30)" transform="translate(452.3 593.1) rotate(24.1) scale(39.6 27.74)"/>
<circle r="1" fill="url(#g31)" transform="translate(461.2 597.6) rotate(26.6) scale(39.6 27.85)"/>
<circle r="1" fill="url(#g31)" transform="translate(470.1 602.1) rotate(26.6) scale(39.6 27.97)"/>
<circle r="1" fill="url(#g2)" transform="translate(479.2 606.2) rotate(20) scale(39.6 28.66)"/>
<circle r="1" fill="url(#g2)" transform="translate(488.6 609.6) rotate(20) scale(39.6 30.42)"/>
<circle r="1" fill="url(#g32)" transform="translate(498 613) rotate(20) scale(39.6 32.18)"/>
<circle r="1" fill="url(#g32)" transform="translate(507.4 616.4) rotate(20) scale(39.6 33.94)"/>
<circle r="1" fill="url(#g32)" transform="translate(516.8 619.8) rotate(20) scale(39.6 35.71)"/>
<circle r="1" fill="url(#g32)" transform="translate(526.4 622.8) rotate(16.1) scale(39.6 37.23)"/>
<circle r="1" fill="url(#g1)" transform="translate(536 625.6) rotate(16.1) scale(39.6 38.64)"/>
<circle r="1" fill="url(#g1)" transform="translate(545.6 628.4) rotate(16.1) scale(39.6 40.05)"/>
<circle r="1" fill="url(#g1)" transform="translate(555.2 631.2) rotate(16.1) scale(39.6 41.46)"/>
<circle r="1" fill="url(#g1)" transform="translate(564.8 633.9) rotate(15.3) scale(39.6 42.87)"/>
<circle r="1" fill="url(#g1)" transform="translate(574.5 636.4) rotate(14.4) scale(39.6 42.9)"/>
<circle r="1" fill="url(#g1)" transform="translate(584.2 638.9) rotate(14.4) scale(39.6 42.9)"/>
<circle r="1" fill="url(#g1)" transform="translate(593.9 641.4) rotate(14.4) scale(39.6 42.9)"/>
<circle r="1" fill="url(#g1)" transform="translate(603.5 643.9) rotate(14.4) scale(39.6 42.9)"/>
<circle r="1" fill="url(#g1)" transform="translate(613.2 646.4) rotate(14.4) scale(39.6 42.9)"/>
<circle r="1" fill="url(#g1)" transform="translate(622.9 648.9) rotate(14.4) scale(39.6 42.9)"/>
<circle r="1" fill="url(#g1)" transform="translate(632.6 651.4) rotate(14.4) scale(39.6 42.9)"/>
</g></g>
<path d="M88 230H207.2L88 493.5Z" fill="#5b5a56" clip-path="url(#cpa)"/>
<path d="M170.4 315.3C173.4 315.8 178.4 320.6 182.2 324C186 327.4 189.6 331.3 193.3 335.9C197 340.5 200.7 346.1 204.4 351.7C208.1 357.2 211 362.6 215.5 369.2C220 375.8 225.5 383.4 231.3 391.3C237.1 399.2 243.4 407.9 250.3 416.6C257.2 425.3 264.9 434.9 272.5 443.6C280.1 452.3 288.3 461 296.2 468.9C304.1 476.8 312.1 483.9 320 491C327.9 498.1 334.7 503.6 343.7 511.6C352.7 519.6 364.8 531.6 373.9 539C383 546.4 390.3 550.7 398.5 556.2C406.7 561.7 416.9 568.4 423.1 572.2C429.3 576 430.4 577 435.5 579C440.6 581 448.8 581.9 453.9 583.9C459 585.9 462.3 588.1 466.2 591.3C470.1 594.5 475.9 600.2 477.3 603C478.8 605.8 477.8 607.9 474.9 607.9C472 607.9 464.6 604.2 460.1 603C455.6 601.8 452.9 601.4 447.8 600.5C442.7 599.6 435.5 598.8 429.3 597.4C423.1 596 418 594.7 410.8 591.9C403.6 589.1 394.4 584.9 386.2 580.8C378 576.7 370 571.7 361.6 567.3C353.2 562.9 345.4 560.1 335.8 554.5C326.2 548.9 314.7 541.2 304.1 533.8C293.6 526.4 282.5 518.2 272.5 510C262.5 501.8 253 493.1 244 484.7C235 476.3 226.6 468.1 218.7 459.4C210.8 450.7 203.4 441.7 196.5 432.5C189.6 423.3 183.3 413.5 177.5 404C171.7 394.5 165.8 383.9 161.7 375.5C157.6 367.1 153.7 360.2 153 353.3C152.3 346.4 155.9 339.7 157.7 334.3C159.5 328.9 161.9 324.1 164 320.9C166.1 317.7 167.4 314.8 170.4 315.3Z" fill="none" stroke="#9b2c2c" stroke-width="2.0" clip-path="url(#cpa)"/>
<path d="M170.4 348.6C172.8 348.6 177.8 349.4 182.2 353.3C186.5 357.2 190.9 364.7 196.5 372.3C202.1 379.9 208.1 389.7 215.5 399.2C222.9 408.7 231.8 419 240.8 429.3C249.8 439.6 260.1 451 269.3 461C278.5 471 287.8 480.5 296.2 489.5C304.6 498.5 313.4 507.1 320 514.8C326.6 522.5 333.3 531.7 335.7 535.5C338.1 539.3 336.8 538.7 334.2 537.4C331.6 536.1 326.3 531.8 320 527.5C313.7 523.2 304.6 517.7 296.2 511.6C287.8 505.5 278.5 498.6 269.3 491C260.1 483.4 250 474.7 240.8 465.7C231.6 456.7 221.8 446.4 213.9 437.2C206 428 199.4 419 193.3 410.3C187.2 401.6 181.4 392.4 177.5 385C173.6 377.6 171.2 371.3 169.6 366C168 360.7 167.7 356.2 167.8 353.3C167.9 350.4 168 348.6 170.4 348.6Z" fill="none" stroke="#9b2c2c" stroke-width="2.0" clip-path="url(#cpa)"/>
<path d="M171 318.5C173.8 318.9 178.8 322.9 182.5 326C186.2 329.1 189.8 332.7 193.5 337C197.2 341.3 200.8 346.7 204.6 352C208.3 357.3 211.4 362.6 216 369C220.6 375.4 226.2 382.8 232 390.5C237.8 398.2 244.1 406.9 251 415.5C257.9 424.1 265.8 433.5 273.5 442C281.2 450.5 289 457.7 297.5 466.5C306 475.3 316 486.6 324.6 494.6C333.2 502.6 341.1 507.9 349.3 514.3C357.5 520.7 365.7 527 373.9 532.8C382.1 538.5 390.3 543.5 398.5 548.8C406.7 554.1 414.9 559.7 423.1 564.8C431.3 569.9 441.2 575.5 447.8 579.6C454.4 583.7 459.8 586.9 462.5 589.4C465.2 591.9 464.6 593.1 463.8 594.4C463 595.7 462.3 597.3 457.6 597.4C452.9 597.5 443.3 596.5 435.5 595C427.7 593.5 419 591.1 410.8 588.2C402.6 585.3 394.4 581.6 386.2 577.7C378 573.8 369.8 569.2 361.6 564.8C353.4 560.4 345.1 555.9 336.9 551.3C328.7 546.7 318.4 540.8 312.3 537.1C306.2 533.4 306.4 534.1 300 529.1C293.6 524.1 283 514.9 274 507C265 499.1 254.8 490.3 246 482C237.2 473.7 228.8 465.6 221 457C213.2 448.4 205.8 439.6 199 430.5C192.2 421.4 186.2 411.8 180.5 402.5C174.8 393.2 168.9 382.7 165 374.5C161.1 366.3 157.7 359.9 157 353.5C156.3 347.1 159.5 341 161 336C162.5 331 164.3 326.4 166 323.5C167.7 320.6 168.2 318.1 171 318.5Z" fill="none" stroke="#00008b" stroke-width="3.0" stroke-dasharray="11.1 4.8" clip-path="url(#cpa)"/>
<path d="M188.6 376.3C190.8 376.1 196.2 379.3 201.2 383.4C206.2 387.5 212.1 393.7 218.7 400.8C225.3 407.9 232.4 416.9 240.8 426.1C249.2 435.3 260.1 447 269.3 456.2C278.5 465.4 287.8 473.6 296.2 481.5C304.6 489.4 312.1 496 320 503.7C327.9 511.4 338.2 521.8 343.7 527.5C349.2 533.2 350.9 535.3 353 538C355.1 540.7 356.4 542.4 356.6 543.9C356.8 545.4 356.5 547.7 354.4 547.3C352.2 546.9 349.4 544.8 343.7 541.7C338 538.7 327.9 533.5 320 529C312.1 524.5 304.1 520.1 296.2 514.8C288.3 509.5 280.4 503.7 272.5 497.4C264.6 491.1 256.6 484.7 248.7 476.8C240.8 468.9 232.1 458.6 225 449.9C217.9 441.2 211.3 432.8 206 424.6C200.7 416.4 196.3 407.5 193.3 400.8C190.3 394.1 188.8 388.6 188 384.5C187.2 380.4 186.4 376.5 188.6 376.3Z" fill="none" stroke="#00008b" stroke-width="3.0" stroke-dasharray="11.1 4.8" clip-path="url(#cpa)"/>
<rect x="88" y="230" width="551.8" height="478.6" fill="none" stroke="#a9a9a9" stroke-width="1.6"/>
<path d="M160 708.6v3.6" stroke="#8f8f8f" stroke-width="1.3"/>
<text x="160" y="737.3" font-family="'DejaVu Sans','Liberation Sans',sans-serif" font-size="27.3" text-anchor="middle" fill="#111">10</text>
<path d="M279.7 708.6v3.6" stroke="#8f8f8f" stroke-width="1.3"/>
<text x="279.7" y="737.3" font-family="'DejaVu Sans','Liberation Sans',sans-serif" font-size="27.3" text-anchor="middle" fill="#111">15</text>
<path d="M399.4 708.6v3.6" stroke="#8f8f8f" stroke-width="1.3"/>
<text x="399.4" y="737.3" font-family="'DejaVu Sans','Liberation Sans',sans-serif" font-size="27.3" text-anchor="middle" fill="#111">20</text>
<path d="M519.1 708.6v3.6" stroke="#8f8f8f" stroke-width="1.3"/>
<text x="519.1" y="737.3" font-family="'DejaVu Sans','Liberation Sans',sans-serif" font-size="27.3" text-anchor="middle" fill="#111">25</text>
<path d="M638.8 708.6v3.6" stroke="#8f8f8f" stroke-width="1.3"/>
<text x="638.8" y="737.3" font-family="'DejaVu Sans','Liberation Sans',sans-serif" font-size="27.3" text-anchor="middle" fill="#111">30</text>
<path d="M88 228.9h-3.6" stroke="#8f8f8f" stroke-width="1.3"/>
<text x="80.6" y="238.85" font-family="'DejaVu Sans','Liberation Sans',sans-serif" font-size="27.3" text-anchor="end" fill="#111">12</text>
<path d="M88 335.5h-3.6" stroke="#8f8f8f" stroke-width="1.3"/>
<text x="80.6" y="345.45" font-family="'DejaVu Sans','Liberation Sans',sans-serif" font-size="27.3" text-anchor="end" fill="#111">10</text>
<path d="M88 442.1h-3.6" stroke="#8f8f8f" stroke-width="1.3"/>
<text x="80.6" y="452.05" font-family="'DejaVu Sans','Liberation Sans',sans-serif" font-size="27.3" text-anchor="end" fill="#111">8</text>
<path d="M88 548.7h-3.6" stroke="#8f8f8f" stroke-width="1.3"/>
<text x="80.6" y="558.65" font-family="'DejaVu Sans','Liberation Sans',sans-serif" font-size="27.3" text-anchor="end" fill="#111">6</text>
<path d="M88 655.3h-3.6" stroke="#8f8f8f" stroke-width="1.3"/>
<text x="80.6" y="665.25" font-family="'DejaVu Sans','Liberation Sans',sans-serif" font-size="27.3" text-anchor="end" fill="#111">4</text>
<path d="M160 213.4v3.2" stroke="#999" stroke-width="1.2"/>
<path d="M279.7 213.4v3.2" stroke="#999" stroke-width="1.2"/>
<path d="M399.4 213.4v3.2" stroke="#999" stroke-width="1.2"/>
<path d="M519.1 213.4v3.2" stroke="#999" stroke-width="1.2"/>
<path d="M638.8 213.4v3.2" stroke="#999" stroke-width="1.2"/>
<rect x="88" y="53.8" width="551.8" height="159.6" fill="#fff"/>
<path d="M154.4 212.8V179.3H165.2V98.5H176V69.5H186.8V61.2H197.6V81.2H208.4V70.1H219.2V76.2H230V65.6H240.8V82.9H251.6V101.3H262.4V98.8H273.2V112.7H284V119.9H294.8V129.1H305.6V145.3H316.4V154.2H327.2V155.9H338V167.6H348.8V172H359.6V177.6H370.4V186.5H381.2V186.5H392V189.3H402.8V192.1H413.6V200.4H424.4V199.3H435.2V201H446V202.5H456.8V201H467.6V201H478.4V205H489.2V208H500V209H510.8V207.5H521.6V208H532.4V208H543.2V209.5H554V211H564.8V211H575.6V211.5H586.4V212H597.2V212H608V212.3H618.8V212.5H629.6V212.5H639.8V212.8Z" fill="#dcdcdc" stroke="#9b2c2c" stroke-width="2.3" stroke-linejoin="miter"/>
<path d="M153.6 212.8V197.1H165.2V141.2H176V118.6H186.8V111.3H197.6V98.5H208.4V95.5H219.2V84H230V85.7H240.8V90.1H251.6V88.5H262.4V94.6H273.2V90.1H284V95.2H294.8V106.9H305.6V123H316.4V131.9H327.2V145.3H338V157H348.8V162.6H359.6V168.1H370.4V173.1H381.2V178.7H392V182.6H402.8V189.9H413.6V191H424.4V192.6H435.2V197.5H446V200H456.8V203H467.6V203H478.4V205H489.2V206.5H500V208H510.8V209.5H521.6V210.5H532.4V210.5H543.2V212H554V212H564.8V212.3H575.6V212.6H586.4V212.6H597.2V212.6H608V212.6H618.8V212.6H629.6V212.6H639.8V212.8" fill="none" stroke="#00008b" stroke-width="2.1"/>
<path d="M173 54.6V212.6" stroke="#9b2c2c" stroke-width="2.4"/>
<path d="M247.7 54.6V212.6" stroke="#9b2c2c" stroke-width="2.4"/>
<path d="M424.7 54.6V212.6" stroke="#9b2c2c" stroke-width="2.4"/>
<path d="M177.5 56.8V212.6" stroke="#00008b" stroke-width="2.2" stroke-dasharray="8.2 3.6"/>
<path d="M267.2 56.8V212.6" stroke="#00008b" stroke-width="2.2" stroke-dasharray="8.2 3.6"/>
<path d="M426.5 56.8V212.6" stroke="#00008b" stroke-width="2.2" stroke-dasharray="8.2 3.6"/>
<rect x="88" y="53.8" width="551.8" height="159.6" fill="none" stroke="#a9a9a9" stroke-width="1.5"/>
<path d="M658.3 335.5h-3.2" stroke="#999" stroke-width="1.2"/>
<path d="M658.3 442.1h-3.2" stroke="#999" stroke-width="1.2"/>
<path d="M658.3 548.7h-3.2" stroke="#999" stroke-width="1.2"/>
<path d="M658.3 655.3h-3.2" stroke="#999" stroke-width="1.2"/>
<rect x="658.3" y="230" width="183.4" height="478.6" fill="#fff"/>
<path d="M659.3 301.9H661.7V308.8H661.7V315.8H679.3V322.7H699.9V329.7H713.9V336.7H725.1V343.6H735.6V350.6H757.3V357.6H754.4V364.5H780.2V371.5H758.5V378.4H761.5V385.4H773.8V392.4H774.9V399.3H779.6V406.3H786.7V413.3H779V420.2H791.4V427.2H806V434.1H795.5V441.1H804.3V448.1H798.4V455H810.1V462H803V469H790V475.9H790V482.9H821.6V489.9H801.6V496.8H773.2V503.8H784.2V510.7H775.8V517.7H771.9V524.7H765.5V531.6H758.4V538.6H753.8V545.6H746.7V552.5H728V559.5H720.3V566.4H717.1V573.4H713.9V580.4H701.6V587.3H703.5V594.3H693.2V601.3H693.2V608.2H681V615.2H681V622.1H673.2V629.1H666.1V636.1H661.6V643H661.6V650H659.3Z" fill="#dcdcdc" stroke="#9b2c2c" stroke-width="2.3"/>
<path d="M659.3 297H660.2V304.4H660.2V311.7H669.9V319.1H681.1V326.4H689.3V333.8H703.4V341.1H719.2V348.5H721V355.8H721V363.2H724.5V370.6H739.2V377.9H741V385.3H743.3V392.6H750.9V400H759.1V407.3H773.2V414.7H773.2V422H778.5V429.4H786.1V436.7H786.1V444.1H794.9V451.5H807.8V458.8H807.8V466.2H819.5V473.5H811.3V480.9H822.2V488.2H817.1V495.6H826.7V502.9H833.2V510.3H810.6V517.6H808V525H787.4V532.4H781.6V539.7H767.4V547.1H751.9V554.4H751.9V561.8H740.3V569.1H728V576.5H722.9V583.8H710.6V591.2H694.5V598.6H688.7V605.9H677.1V613.3H677.1V620.6H666.1V628H661.6V635.3H660V642.7H660V650H659.8V657.4H659.8V664.8H659.3" fill="none" stroke="#00008b" stroke-width="2.1"/>
<path d="M659.1 346.3H840.9" stroke="#9b2c2c" stroke-width="2.4"/>
<path d="M659.1 457.1H840.9" stroke="#9b2c2c" stroke-width="2.4"/>
<path d="M659.1 581.5H840.9" stroke="#9b2c2c" stroke-width="2.4"/>
<path d="M659.1 351.8H840.9" stroke="#00008b" stroke-width="2.2" stroke-dasharray="8.2 3.6"/>
<path d="M659.1 473.5H840.9" stroke="#00008b" stroke-width="2.2" stroke-dasharray="8.2 3.6"/>
<path d="M659.1 578.7H840.9" stroke="#00008b" stroke-width="2.2" stroke-dasharray="8.2 3.6"/>
<rect x="658.3" y="230" width="183.4" height="478.6" fill="none" stroke="#a9a9a9" stroke-width="1.5"/>
<rect x="655.8" y="58.9" width="342.3" height="89" rx="5" ry="5" fill="#fff" stroke="#dedede" stroke-width="1.6"/>
<path d="M663 81.3H727.2" stroke="#9b2c2c" stroke-width="7.6"/>
<path d="M667.3 122.3H697M710.4 122.3H723" stroke="#00008b" stroke-width="7.6"/>
<text x="745.4" y="91.6" font-family="'DejaVu Serif','Liberation Serif',serif" font-size="27.69" fill="#111" word-spacing="1.2">PyCBC Inference</text>
<text x="745.4" y="132.2" font-family="'DejaVu Serif','Liberation Serif',serif" font-size="27.69" fill="#111" word-spacing="1.7">LVC O1 BBH</text>
<g clip-path="url(#cpb)"><g filter="url(#cmap)">
<rect x="1165.4" y="221.9" width="544.3" height="477.1" fill="#000"/>
<circle r="1" fill="url(#g33)" transform="translate(1110 633.5) rotate(-34.5) scale(42.9 66)"/>
<circle r="1" fill="url(#g30)" transform="translate(1119.9 626.7) rotate(-34.5) scale(42.9 67.09)"/>
<circle r="1" fill="url(#g26)" transform="translate(1129.8 619.9) rotate(-34.5) scale(42.9 68.18)"/>
<circle r="1" fill="url(#g34)" transform="translate(1139.7 613.1) rotate(-34.6) scale(42.9 69.26)"/>
<circle r="1" fill="url(#g20)" transform="translate(1149.5 606.3) rotate(-34.7) scale(42.9 70.45)"/>
<circle r="1" fill="url(#g35)" transform="translate(1159.4 599.4) rotate(-34.7) scale(42.9 71.64)"/>
<circle r="1" fill="url(#g36)" transform="translate(1169.3 592.6) rotate(-34.5) scale(42.9 72.8)"/>
<circle r="1" fill="url(#g13)" transform="translate(1179.2 585.8) rotate(-34.4) scale(42.9 73.84)"/>
<circle r="1" fill="url(#g37)" transform="translate(1189 579) rotate(-34.6) scale(42.9 74.7)"/>
<circle r="1" fill="url(#g37)" transform="translate(1198.9 572.2) rotate(-34.6) scale(42.9 75.44)"/>
<circle r="1" fill="url(#g38)" transform="translate(1208.8 565.4) rotate(-34.5) scale(42.9 76.27)"/>
<circle r="1" fill="url(#g37)" transform="translate(1218.7 558.6) rotate(-34.5) scale(42.9 77.23)"/>
<circle r="1" fill="url(#g39)" transform="translate(1228.6 551.8) rotate(-34.6) scale(42.9 78.15)"/>
<circle r="1" fill="url(#g13)" transform="translate(1238.4 545) rotate(-34.6) scale(42.9 79.06)"/>
<circle r="1" fill="url(#g40)" transform="translate(1248.3 538.1) rotate(-34.8) scale(42.9 79.89)"/>
<circle r="1" fill="url(#g36)" transform="translate(1258.2 531.3) rotate(-34.8) scale(42.9 80.7)"/>
<circle r="1" fill="url(#g41)" transform="translate(1268 524.5) rotate(-34.5) scale(42.9 81.43)"/>
<circle r="1" fill="url(#g42)" transform="translate(1277.9 517.7) rotate(-34.5) scale(42.9 82.14)"/>
<circle r="1" fill="url(#g35)" transform="translate(1287.8 510.9) rotate(-34.6) scale(42.9 82.79)"/>
<circle r="1" fill="url(#g43)" transform="translate(1297.7 504.1) rotate(-34.6) scale(42.9 83.4)"/>
<circle r="1" fill="url(#g20)" transform="translate(1307.6 497.3) rotate(-34.6) scale(42.9 84)"/>
<circle r="1" fill="url(#g44)" transform="translate(1317.4 490.4) rotate(-35.1) scale(42.9 84.5)"/>
<circle r="1" fill="url(#g44)" transform="translate(1327.2 483.5) rotate(-35.1) scale(42.9 84.96)"/>
<circle r="1" fill="url(#g23)" transform="translate(1337.1 476.6) rotate(-35.1) scale(42.9 85.43)"/>
<circle r="1" fill="url(#g34)" transform="translate(1346.8 469.6) rotate(-36.5) scale(42.9 85.75)"/>
<circle r="1" fill="url(#g34)" transform="translate(1356.5 462.5) rotate(-36.7) scale(42.9 85.46)"/>
<circle r="1" fill="url(#g26)" transform="translate(1366.1 455.3) rotate(-36.7) scale(42.9 85.17)"/>
<circle r="1" fill="url(#g26)" transform="translate(1375.7 448.1) rotate(-36.7) scale(42.9 84.88)"/>
<circle r="1" fill="url(#g45)" transform="translate(1385.3 440.9) rotate(-36.7) scale(42.9 84.59)"/>
<circle r="1" fill="url(#g45)" transform="translate(1394.9 433.8) rotate(-36.7) scale(42.9 84.3)"/>
<circle r="1" fill="url(#g45)" transform="translate(1404.5 426.5) rotate(-38) scale(42.9 83.56)"/>
<circle r="1" fill="url(#g30)" transform="translate(1413.9 419.1) rotate(-38) scale(42.9 82.31)"/>
<circle r="1" fill="url(#g30)" transform="translate(1423.4 411.7) rotate(-38) scale(42.9 81.06)"/>
<circle r="1" fill="url(#g30)" transform="translate(1432.9 404.4) rotate(-38) scale(42.9 79.81)"/>
<circle r="1" fill="url(#g30)" transform="translate(1442.3 397) rotate(-38) scale(42.9 78.56)"/>
<circle r="1" fill="url(#g30)" transform="translate(1451.8 389.6) rotate(-37.2) scale(42.9 77.34)"/>
<circle r="1" fill="url(#g30)" transform="translate(1461.4 382.4) rotate(-37.1) scale(42.9 76.21)"/>
<circle r="1" fill="url(#g33)" transform="translate(1470.9 375.1) rotate(-37.1) scale(42.9 75.08)"/>
<circle r="1" fill="url(#g33)" transform="translate(1480.5 367.9) rotate(-37.1) scale(42.9 73.95)"/>
<circle r="1" fill="url(#g33)" transform="translate(1490.1 360.7) rotate(-37.1) scale(42.9 72.83)"/>
<circle r="1" fill="url(#g33)" transform="translate(1499.6 353.4) rotate(-37.1) scale(42.9 71.7)"/>
<circle r="1" fill="url(#g33)" transform="translate(1509.2 346.2) rotate(-37.1) scale(42.9 70.57)"/>
<circle r="1" fill="url(#g33)" transform="translate(1518.8 338.9) rotate(-36.1) scale(42.9 69.44)"/>
<circle r="1" fill="url(#g33)" transform="translate(1528.8 332.3) rotate(-33) scale(42.9 68.94)"/>
<circle r="1" fill="url(#g33)" transform="translate(1538.8 325.8) rotate(-33) scale(42.9 68.52)"/>
<circle r="1" fill="url(#g33)" transform="translate(1548.9 319.2) rotate(-33) scale(42.9 68.11)"/>
<circle r="1" fill="url(#g33)" transform="translate(1559 312.7) rotate(-33) scale(42.9 67.69)"/>
<circle r="1" fill="url(#g33)" transform="translate(1569 306.1) rotate(-33) scale(42.9 67.28)"/>
<circle r="1" fill="url(#g33)" transform="translate(1579.1 299.6) rotate(-33) scale(42.9 66.86)"/>
<circle r="1" fill="url(#g33)" transform="translate(1589.1 293.1) rotate(-33) scale(42.9 66.45)"/>
<circle r="1" fill="url(#g33)" transform="translate(1599.2 286.5) rotate(-32) scale(42.9 66.03)"/>
<circle r="1" fill="url(#g33)" transform="translate(1609.6 280.5) rotate(-30.1) scale(42.9 66)"/>
<circle r="1" fill="url(#g33)" transform="translate(1619.9 274.4) rotate(-30.1) scale(42.9 66)"/>
<circle r="1" fill="url(#g33)" transform="translate(1630.3 268.4) rotate(-30.1) scale(42.9 66)"/>
<circle r="1" fill="url(#g33)" transform="translate(1640.7 262.4) rotate(-30.1) scale(42.9 66)"/>
<circle r="1" fill="url(#g33)" transform="translate(1651.1 256.4) rotate(-30.1) scale(42.9 66)"/>
<circle r="1" fill="url(#g33)" transform="translate(1661.5 250.3) rotate(-30.1) scale(42.9 66)"/>
<circle r="1" fill="url(#g33)" transform="translate(1671.8 244.3) rotate(-30.1) scale(42.9 66)"/>
<circle r="1" fill="url(#g33)" transform="translate(1682.2 238.3) rotate(-30.1) scale(42.9 66)"/>
<circle r="1" fill="url(#g33)" transform="translate(1692.6 232.3) rotate(-30.1) scale(42.9 66)"/>
<circle r="1" fill="url(#g33)" transform="translate(1703 226.3) rotate(-29.5) scale(42.9 66)"/>
<circle r="1" fill="url(#g33)" transform="translate(1713.4 220.4) rotate(-29.5) scale(42.9 66)"/>
<circle r="1" fill="url(#g33)" transform="translate(1723.9 214.5) rotate(-29.5) scale(42.9 66)"/>
<circle r="1" fill="url(#g33)" transform="translate(1734.3 208.5) rotate(-29.5) scale(42.9 66)"/>
<circle r="1" fill="url(#g33)" transform="translate(1744.8 202.6) rotate(-29.5) scale(42.9 66)"/>
<circle r="1" fill="url(#g33)" transform="translate(1755.2 196.7) rotate(-29.5) scale(42.9 66)"/>
<circle r="1" fill="url(#g46)" transform="translate(1230 592) rotate(-37) scale(231 85.8)"/>
</g></g>
<path d="M1167.4 536.4C1171.5 533.4 1182.4 525.5 1191.7 518.2C1201 511 1212.9 501.5 1223.4 492.9C1234 484.3 1244.5 474.9 1255 466.7C1265.5 458.5 1279.2 449.9 1286.7 443.8C1294.2 437.7 1293.3 435.4 1300 430C1306.7 424.6 1318.1 417 1327.1 411.7C1336.1 406.4 1345.1 402.2 1354.1 398.2C1363.1 394.1 1372.2 391.2 1381.2 387.4C1390.2 383.6 1399.2 379.1 1408.2 375.2C1417.2 371.2 1426.3 367.8 1435.3 363.7C1444.3 359.6 1453.3 355.2 1462.3 350.9C1471.3 346.6 1481.5 342.1 1489.4 338C1497.3 333.9 1504.1 329.5 1509.7 326.5C1515.3 323.5 1519.2 321.4 1523.2 319.8C1527.2 318.2 1531.3 317 1534 317.1C1536.7 317.2 1538.7 318.4 1539.4 320.4C1540.1 322.4 1539.7 325.5 1538.1 329.2C1536.5 332.9 1533.5 338.3 1529.9 342.8C1526.3 347.3 1522 351.6 1516.4 356.3C1510.8 361 1501.7 366.7 1496.1 371.2C1490.5 375.7 1487.1 378.4 1482.6 383.3C1478.1 388.2 1473.6 395.5 1469.1 400.9C1464.6 406.3 1460.9 409.8 1455.6 415.8C1450.3 421.8 1444.2 428.4 1437.2 437C1430.2 445.6 1422.6 456.6 1413.4 467.5C1404.2 478.4 1392.3 491.8 1381.8 502.4C1371.2 513 1359.3 522.2 1350.1 530.9C1340.8 539.6 1335.5 545.9 1326.3 554.6C1317 563.3 1305.1 574.5 1294.6 583.2C1284 591.9 1273.5 599.2 1263 606.9C1252.5 614.5 1241.9 622.2 1231.3 629.1C1220.7 636 1208.8 643 1199.6 648.1C1190.3 653.2 1181.2 657.9 1175.8 660C1170.4 662.1 1168.8 660.7 1167.4 660.8" fill="none" stroke="#9b2c2c" stroke-width="2.1" clip-path="url(#cpb)"/>
<path d="M1167.4 568.9C1168.8 566.5 1171.8 559.1 1175.8 554.6C1179.8 550.1 1185.1 547 1191.7 542C1198.3 537 1207.5 530.3 1215.4 524.5C1223.3 518.7 1231.3 512.4 1239.2 507.1C1247.1 501.8 1255.1 497 1263 492.9C1270.9 488.8 1280.6 484.8 1286.7 482.6C1292.8 480.4 1295.4 479.6 1299.4 479.9C1303.4 480.2 1307.6 482.4 1310.5 484.2C1313.4 486 1316.5 487.2 1316.8 490.5C1317.1 493.8 1314.5 499.4 1312.1 504C1309.7 508.6 1306.8 512.9 1302.6 518.2C1298.4 523.5 1292 529.5 1286.7 535.6C1281.4 541.7 1276.2 548.2 1270.9 554.6C1265.6 561 1260.3 567.9 1255 573.7C1249.7 579.5 1244.5 584.8 1239.2 589.5C1233.9 594.2 1228.7 598.4 1223.4 602.2C1218.1 606 1212.8 609.6 1207.5 612.5C1202.2 615.4 1196.5 618 1191.7 619.6C1187 621.2 1183 621.9 1179 622C1175 622.1 1169.3 620.7 1167.4 620.4" fill="none" stroke="#9b2c2c" stroke-width="2.1" clip-path="url(#cpb)"/>
<path d="M1167.4 535.5C1171.5 532.5 1182.4 524.5 1191.7 517.2C1201 509.9 1212.9 500.4 1223.4 491.8C1234 483.2 1244.5 473.9 1255 465.7C1265.5 457.5 1279.2 448.9 1286.7 442.8C1294.2 436.7 1293.3 434.5 1300 429.2C1306.7 423.9 1318.1 416.3 1327.1 411C1336.1 405.7 1345.1 401.6 1354.1 397.6C1363.1 393.6 1372.2 390.6 1381.2 386.8C1390.2 383 1399.2 378.7 1408.2 374.8C1417.2 370.9 1426.3 367.3 1435.3 363.3C1444.3 359.3 1454.7 354.3 1462.3 350.6C1469.9 346.9 1475.4 343.7 1481 341C1486.6 338.3 1491.1 335.9 1496.1 334.6C1501.1 333.3 1507.2 333.1 1511 333C1514.8 332.9 1517.4 333.1 1519.1 334C1520.8 334.9 1521.7 336.3 1521.2 338.7C1520.8 341.1 1518.6 344.6 1516.4 348.2C1514.2 351.8 1512.1 355.6 1508.3 360.3C1504.5 365 1498.1 371.2 1493.4 376.6C1488.7 382 1484.4 387.2 1479.9 392.8C1475.4 398.4 1471.6 404.5 1466.4 410.4C1461.2 416.3 1455.1 421.5 1448.8 428C1442.5 434.5 1437 441.4 1428.5 449.6C1420 457.8 1408 467.7 1397.6 477C1387.2 486.3 1376.5 496 1365.9 505.5C1355.3 515 1344.8 524.2 1334.2 534C1323.7 543.8 1313.1 554.6 1302.6 564.1C1292 573.6 1281.5 582.7 1270.9 591.1C1260.3 599.5 1249.8 607.4 1239.2 614.8C1228.6 622.2 1217.3 630.2 1207.5 635.4C1197.7 640.5 1187.3 644.4 1180.6 645.7C1173.9 647 1169.6 643.8 1167.4 643.4" fill="none" stroke="#00008b" stroke-width="2.4" stroke-dasharray="8.8 4.1" clip-path="url(#cpb)"/>
<path d="M1167.4 583.2C1168 581.1 1168.4 575.5 1171.1 570.5C1173.8 565.5 1177.7 559.2 1183.8 553.1C1189.9 547 1199.6 540.1 1207.5 534C1215.4 527.9 1223.4 522.4 1231.3 516.6C1239.2 510.8 1247.1 504.7 1255 499.2C1262.9 493.7 1270.9 488.4 1278.8 483.4C1286.7 478.4 1294.7 473.2 1302.6 469.1C1310.5 465 1320.2 461.1 1326.3 458.8C1332.4 456.5 1335.8 455.2 1339 455.2C1342.2 455.2 1344.8 455.4 1345.3 458.8C1345.8 462.2 1344.6 469.2 1342.2 475.4C1339.8 481.6 1336.4 488.3 1331.1 496C1325.8 503.7 1317.9 513.5 1310.5 521.4C1303.1 529.3 1294.6 536.5 1286.7 543.6C1278.8 550.7 1270.9 557.8 1263 564.1C1255.1 570.4 1247.1 576.3 1239.2 581.6C1231.3 586.9 1223.3 591.6 1215.4 595.8C1207.5 600 1197.8 604.6 1191.7 606.9C1185.6 609.1 1182.7 609.6 1179 609.3C1175.3 609 1171.4 606.5 1169.5 605.3C1167.6 604.1 1167.8 602.7 1167.4 602.2" fill="none" stroke="#00008b" stroke-width="2.4" stroke-dasharray="8.8 4.1" clip-path="url(#cpb)"/>
<rect x="1167.4" y="223.9" width="540.3" height="473.1" fill="none" stroke="#a9a9a9" stroke-width="1.6"/>
<path d="M1167.4 697v3.6" stroke="#8f8f8f" stroke-width="1.3"/>
<text x="1167.4" y="724.2" font-family="'DejaVu Sans','Liberation Sans',sans-serif" font-size="27.3" text-anchor="middle" fill="#111">1</text>
<path d="M1275.5 697v3.6" stroke="#8f8f8f" stroke-width="1.3"/>
<text x="1275.46" y="724.2" font-family="'DejaVu Sans','Liberation Sans',sans-serif" font-size="27.3" text-anchor="middle" fill="#111">2</text>
<path d="M1383.5 697v3.6" stroke="#8f8f8f" stroke-width="1.3"/>
<text x="1383.52" y="724.2" font-family="'DejaVu Sans','Liberation Sans',sans-serif" font-size="27.3" text-anchor="middle" fill="#111">3</text>
<path d="M1491.6 697v3.6" stroke="#8f8f8f" stroke-width="1.3"/>
<text x="1491.58" y="724.2" font-family="'DejaVu Sans','Liberation Sans',sans-serif" font-size="27.3" text-anchor="middle" fill="#111">4</text>
<path d="M1599.6 697v3.6" stroke="#8f8f8f" stroke-width="1.3"/>
<text x="1599.64" y="724.2" font-family="'DejaVu Sans','Liberation Sans',sans-serif" font-size="27.3" text-anchor="middle" fill="#111">5</text>
<path d="M1707.7 697v3.6" stroke="#8f8f8f" stroke-width="1.3"/>
<text x="1707.7" y="724.2" font-family="'DejaVu Sans','Liberation Sans',sans-serif" font-size="27.3" text-anchor="middle" fill="#111">6</text>
<path d="M1167.4 223.6h-3.6" stroke="#8f8f8f" stroke-width="1.3"/>
<text x="1160" y="233.39" font-family="'DejaVu Sans','Liberation Sans',sans-serif" font-size="27" text-anchor="end" fill="#111">0.5</text>
<path d="M1167.4 328.1h-3.6" stroke="#8f8f8f" stroke-width="1.3"/>
<text x="1160" y="337.94" font-family="'DejaVu Sans','Liberation Sans',sans-serif" font-size="27" text-anchor="end" fill="#111">0.4</text>
<path d="M1167.4 432.7h-3.6" stroke="#8f8f8f" stroke-width="1.3"/>
<text x="1160" y="442.49" font-family="'DejaVu Sans','Liberation Sans',sans-serif" font-size="27" text-anchor="end" fill="#111">0.3</text>
<path d="M1167.4 537.2h-3.6" stroke="#8f8f8f" stroke-width="1.3"/>
<text x="1160" y="547.04" font-family="'DejaVu Sans','Liberation Sans',sans-serif" font-size="27" text-anchor="end" fill="#111">0.2</text>
<path d="M1167.4 641.8h-3.6" stroke="#8f8f8f" stroke-width="1.3"/>
<text x="1160" y="651.59" font-family="'DejaVu Sans','Liberation Sans',sans-serif" font-size="27" text-anchor="end" fill="#111">0.1</text>
<path d="M1275.5 207.3v3.2" stroke="#999" stroke-width="1.2"/>
<path d="M1383.5 207.3v3.2" stroke="#999" stroke-width="1.2"/>
<path d="M1491.6 207.3v3.2" stroke="#999" stroke-width="1.2"/>
<path d="M1599.6 207.3v3.2" stroke="#999" stroke-width="1.2"/>
<rect x="1167.4" y="49.9" width="540.3" height="157.4" fill="#fff"/>
<path d="M1168.1 206.7V74.1H1182.2V57.8H1196.3V77.7H1210.5V78.1H1224.6V85H1238.7V91H1252.8V110.9H1266.9V118.8H1281.1V128.4H1295.2V140.5H1309.3V149H1323.4V160.4H1337.5V166.5H1351.7V170.1H1365.8V176.7H1379.9V182H1394V186.5H1408.1V187.9H1422.3V191.2H1436.4V193.6H1450.5V194.4H1464.6V199.4H1478.7V198.6H1492.9V202.2H1507V198.6H1521.1V199.4H1535.2V201H1549.3V201H1563.5V200.2H1577.6V205.1H1591.7V204.5H1605.8V204.5H1619.9V205.5H1634.1V205.5H1648.2V206H1662.3V205.5H1676.4V205.5H1690.5V206.3H1704.7V206.5H1707.7V206.7Z" fill="#dcdcdc" stroke="#9b2c2c" stroke-width="2.3" stroke-linejoin="miter"/>
<path d="M1168.1 206.7V116H1184V107.3H1200V95.8H1215.9V92.2H1231.9V100H1247.8V102.5H1263.8V107.3H1279.8V114.5H1295.7V120.6H1311.6V133.3H1327.6V145.9H1343.5V156.8H1359.5V167.1H1375.4V174.5H1391.4V179.7H1407.3V181.3H1423.3V185.9H1439.2V190.3H1455.2V192.8H1471.1V194.4H1487.1V196.1H1503V198.6H1519V200.5H1534.9V201.5H1550.9V201.5H1566.8V203.2H1582.8V205.1H1598.8V205.4H1614.7V205.7H1630.6V206H1646.6V206.2H1662.5V206.4H1678.5V206.5H1694.4V206.6H1707.7V206.7" fill="none" stroke="#00008b" stroke-width="2.1"/>
<path d="M1175.4 50.7V206.5" stroke="#9b2c2c" stroke-width="2.4"/>
<path d="M1249.6 50.7V206.5" stroke="#9b2c2c" stroke-width="2.4"/>
<path d="M1481.8 50.7V206.5" stroke="#9b2c2c" stroke-width="2.4"/>
<path d="M1179 52.9V206.5" stroke="#00008b" stroke-width="2.2" stroke-dasharray="8.2 3.6"/>
<path d="M1270.8 52.9V206.5" stroke="#00008b" stroke-width="2.2" stroke-dasharray="8.2 3.6"/>
<path d="M1476.6 52.9V206.5" stroke="#00008b" stroke-width="2.2" stroke-dasharray="8.2 3.6"/>
<rect x="1167.4" y="49.9" width="540.3" height="157.4" fill="none" stroke="#a9a9a9" stroke-width="1.5"/>
<path d="M1726 328.1h-3.2" stroke="#999" stroke-width="1.2"/>
<path d="M1726 432.7h-3.2" stroke="#999" stroke-width="1.2"/>
<path d="M1726 537.2h-3.2" stroke="#999" stroke-width="1.2"/>
<path d="M1726 641.8h-3.2" stroke="#999" stroke-width="1.2"/>
<rect x="1726" y="224.3" width="179.2" height="472.7" fill="#fff"/>
<path d="M1726.9 224.5H1727.6V240H1729.7V259H1731.1V282.5H1734.1V303H1734.8V323.5H1737.7V344H1739.9V363.1H1741.4V379.2H1743.6V389.5H1748.7V399.8H1754.6V410H1762.7V420.3H1759.7V432H1761.2V442.3H1776.6V453H1783.6V463.6H1800.4V474.2H1801.2V484.9H1798.9V495.5H1814.9V506.1H1818.7V516.7H1846.2V527.3H1853V538H1873.6V548.6H1884.3V559.2H1896.5V569.8H1880.5V580.4H1871.3V591.1H1833.2V601.7H1810.3V612.3H1781.3V622.9H1753.1V633.5H1739.4V644.2H1734.8V654.8H1729.5V665.4H1727.6V676H1726.9Z" fill="#dcdcdc" stroke="#9b2c2c" stroke-width="2.3"/>
<path d="M1726.9 224.5H1727.6V244.3H1728.9V267.8H1730.4V300H1733.3V322.8H1737V344H1742.1V364.6H1746.5V376.3H1750.9V386.6H1753.1V397.6H1764.9V418.8H1770V429.8H1781.7V440.1H1789.1V451.1H1801.3V461.4H1815.7V472.1H1824.8V482.8H1829.4V494.2H1837V504.1H1846.2V515.6H1850V526.3H1857.6V536.9H1869V547.6H1871.3V569H1846.9V579.6H1827.9V590.3H1803.5V601.7H1775.2V611.7H1755.4V622.3H1743.2V633H1734.8V644.4H1728.7V655.1H1726.9V697H1726.9" fill="none" stroke="#00008b" stroke-width="2.1"/>
<path d="M1726.8 360.2H1904.4" stroke="#9b2c2c" stroke-width="2.4"/>
<path d="M1726.8 537.7H1904.4" stroke="#9b2c2c" stroke-width="2.4"/>
<path d="M1726.8 612.4H1904.4" stroke="#9b2c2c" stroke-width="2.4"/>
<path d="M1726.8 363.1H1904.4" stroke="#00008b" stroke-width="2.2" stroke-dasharray="8.2 3.6"/>
<path d="M1726.8 518.6H1904.4" stroke="#00008b" stroke-width="2.2" stroke-dasharray="8.2 3.6"/>
<path d="M1726.8 602.5H1904.4" stroke="#00008b" stroke-width="2.2" stroke-dasharray="8.2 3.6"/>
<rect x="1726" y="224.3" width="179.2" height="472.7" fill="none" stroke="#a9a9a9" stroke-width="1.5"/>
<rect x="1724.8" y="55.6" width="342.3" height="89" rx="5" ry="5" fill="#fff" stroke="#dedede" stroke-width="1.6"/>
<path d="M1732 78H1796.2" stroke="#9b2c2c" stroke-width="7.6"/>
<path d="M1736.3 119H1766M1779.4 119H1792" stroke="#00008b" stroke-width="7.6"/>
<text x="1814.4" y="88.3" font-family="'DejaVu Serif','Liberation Serif',serif" font-size="27.69" fill="#111" word-spacing="1.2">PyCBC Inference</text>
<text x="1814.4" y="128.9" font-family="'DejaVu Serif','Liberation Serif',serif" font-size="27.69" fill="#111" word-spacing="1.7">LVC O1 BBH</text>
<g clip-path="url(#cpc)"><g filter="url(#cmap)">
<rect x="654.2" y="1095.9" width="544.1" height="474.3" fill="#000"/>
<circle r="1" fill="url(#g47)" transform="translate(771 1346) rotate(51.5) scale(273.9 133.65)"/>
<circle r="1" fill="url(#g47)" transform="translate(1092 1321) rotate(-49) scale(260.7 139.92)"/>
<circle r="1" fill="url(#g34)" transform="translate(926 1455) rotate(0) scale(396 99)"/>
</g></g>
<path d="M656.2 1236.5C659 1233.6 667.1 1223.4 673.2 1219C679.3 1214.6 686.2 1212.1 692.6 1210.3C699 1208.5 704.5 1207.9 711.9 1208.4C719.3 1208.9 728.1 1210.1 737.1 1213.2C746.1 1216.3 756.4 1221.6 766.1 1226.8C775.8 1232 786.2 1237.4 795.2 1244.2C804.2 1251 812.2 1258.4 820.3 1267.4C828.4 1276.4 836.5 1288.1 843.6 1298.4C850.7 1308.7 856.5 1318.8 862.9 1329.4C869.3 1340.1 876.5 1353 882.3 1362.3C888.1 1371.6 893 1379.4 897.8 1385.5C902.6 1391.6 906.7 1395.9 911.3 1399.1C915.9 1402.3 919.9 1404.2 925.2 1404.5C930.5 1404.8 937 1404.2 942.9 1401C948.8 1397.8 954.8 1392.3 960.3 1385.5C965.8 1378.7 970.6 1370.3 975.8 1360.3C981 1350.3 986.1 1335.8 991.3 1325.5C996.5 1315.2 1001 1307.1 1006.8 1298.4C1012.6 1289.7 1019 1281.3 1026.1 1273.2C1033.2 1265.1 1041.3 1256.9 1049.4 1250C1057.5 1243.1 1065.5 1237.1 1074.5 1231.6C1083.5 1226.1 1095.5 1220.6 1103.6 1217.1C1111.7 1213.5 1116.5 1211.6 1122.9 1210.3C1129.4 1209 1135.2 1208.4 1142.3 1209.4C1149.4 1210.4 1158.4 1212.6 1165.5 1216.1C1172.6 1219.6 1179.8 1226.1 1184.9 1230.6C1190 1235.1 1194.4 1241.1 1196.3 1243.2" fill="none" stroke="#9b2c2c" stroke-width="2.4" clip-path="url(#cpc)"/>
<path d="M656.2 1312C657.4 1317.5 660.4 1334.6 663.6 1344.9C666.8 1355.2 671 1364.9 675.2 1373.9C679.4 1382.9 683.9 1391.4 688.7 1399.1C693.5 1406.8 697.8 1413.2 704.2 1420.3C710.7 1427.4 718.7 1434.8 727.4 1441.6C736.1 1448.4 746.8 1455.5 756.5 1461C766.2 1466.5 775.8 1470.9 785.5 1474.6C795.2 1478.3 804.8 1481 814.5 1483.3C824.2 1485.5 835.5 1487.1 843.6 1488.1C851.7 1489.1 854.8 1489.4 862.9 1489.1C871 1488.8 882.3 1487.3 892 1486C901.7 1484.7 911.3 1482.8 921 1481.5C930.7 1480.2 939.3 1479 950 1478C960.7 1477 973.9 1476.5 985 1475.5C996.1 1474.5 1004.8 1474.2 1016.5 1471.8C1028.2 1469.4 1043.9 1465.1 1055.2 1461C1066.5 1456.9 1074.5 1453.2 1084.2 1447.4C1093.9 1441.6 1105.2 1433 1113.3 1426.2C1121.4 1419.4 1126.1 1413.9 1132.6 1406.8C1139 1399.7 1145.5 1391.3 1152 1383.6C1158.5 1375.8 1165.5 1367.7 1171.3 1360.3C1177.1 1352.9 1182.6 1345.5 1186.8 1339C1191 1332.5 1194.7 1324.5 1196.3 1321.6" fill="none" stroke="#9b2c2c" stroke-width="2.4" clip-path="url(#cpc)"/>
<path d="M725.5 1257.8C731.3 1258.3 739.4 1260.4 746.8 1263.6C754.2 1266.8 761.9 1271.3 770 1277.1C778.1 1282.9 787.1 1290.3 795.2 1298.4C803.3 1306.5 811.6 1316.2 818.4 1325.5C825.2 1334.8 831 1344.8 835.8 1354.5C840.6 1364.2 845 1375.5 847.4 1383.6C849.8 1391.7 850.6 1397.4 850.3 1402.9C850 1408.4 848.2 1412.8 845.5 1416.5C842.8 1420.2 838.4 1423.1 833.9 1425.2C829.4 1427.3 824.2 1428.9 818.4 1429.1C812.6 1429.3 806.2 1428.6 799.1 1426.2C792 1423.8 783.5 1419.7 775.8 1414.5C768 1409.3 760 1402.6 752.6 1395.2C745.2 1387.8 737.8 1379 731.3 1370C724.8 1361 718.7 1350.7 713.9 1341C709.1 1331.3 704.9 1321 702.3 1312C699.7 1303 698.6 1293.6 698.4 1286.8C698.2 1280 699 1275.6 701.3 1271.3C703.5 1267 707.9 1263 711.9 1260.7C715.9 1258.5 719.7 1257.3 725.5 1257.8Z" fill="none" stroke="#9b2c2c" stroke-width="2.4" clip-path="url(#cpc)"/>
<path d="M1122.9 1253.9C1129.4 1253.8 1136.8 1254.9 1142.3 1257.8C1147.8 1260.7 1152.7 1265.8 1155.8 1271.3C1158.9 1276.8 1160.7 1283.6 1160.7 1290.7C1160.7 1297.8 1158.9 1306.2 1155.8 1313.9C1152.7 1321.6 1147.8 1329.4 1142.3 1337.1C1136.8 1344.8 1130 1353.2 1122.9 1360.3C1115.8 1367.4 1107.8 1373.9 1099.7 1379.7C1091.6 1385.5 1082.9 1391.3 1074.5 1395.2C1066.1 1399.1 1056.5 1401.9 1049.4 1402.9C1042.3 1403.9 1036.7 1402.9 1032 1401C1027.3 1399.1 1023.6 1395.8 1021.3 1391.3C1019 1386.8 1017.9 1381 1018.4 1373.9C1018.9 1366.8 1021 1357.4 1024.2 1348.7C1027.4 1340 1032.3 1330.6 1037.8 1321.6C1043.3 1312.6 1050 1302.6 1057.1 1294.5C1064.2 1286.4 1072.5 1279.2 1080.3 1273.2C1088 1267.2 1096.5 1261.9 1103.6 1258.7C1110.7 1255.5 1116.5 1254.1 1122.9 1253.9Z" fill="none" stroke="#9b2c2c" stroke-width="2.4" clip-path="url(#cpc)"/>
<path d="M656.2 1255.8C657.8 1252.6 660.7 1242.2 665.5 1236.5C670.3 1230.8 677.7 1225 684.8 1221.9C691.9 1218.8 700.4 1218.1 708.1 1218.1C715.9 1218.1 723.2 1218.8 731.3 1221.9C739.4 1225 748.1 1230.5 756.5 1236.5C764.9 1242.5 773.5 1250.1 781.6 1257.8C789.7 1265.5 797.8 1274.2 804.9 1282.9C812 1291.6 817.8 1300.3 824.2 1310C830.7 1319.7 837.2 1330.7 843.6 1341C850 1351.3 856.5 1362.3 862.9 1372C869.3 1381.7 875.8 1391.7 882.3 1399.1C888.8 1406.5 895.1 1412.5 901.6 1416.5C908.1 1420.5 913.8 1423.3 921 1423.3C928.2 1423.3 937.6 1420.5 944.8 1416.5C952 1412.5 958.1 1406.5 964.2 1399.1C970.3 1391.7 976.1 1381 981.6 1372C987.1 1363 991.3 1355.2 997.1 1344.9C1002.9 1334.6 1009.7 1320.7 1016.5 1310C1023.3 1299.3 1029.7 1290.3 1037.8 1281C1045.9 1271.7 1055.6 1261.7 1064.9 1253.9C1074.2 1246.2 1084.2 1240 1093.9 1234.5C1103.6 1229 1114.8 1223.7 1122.9 1221C1131 1218.3 1135.8 1218.1 1142.3 1218.1C1148.8 1218.1 1155.1 1218.4 1161.6 1221C1168 1223.6 1175.2 1228.8 1181 1233.6C1186.8 1238.4 1193.8 1247.3 1196.3 1250" fill="none" stroke="#00008b" stroke-width="2.8" stroke-dasharray="11.2 5.4" clip-path="url(#cpc)"/>
<path d="M656.2 1325.5C657.8 1331 661.7 1347.8 665.5 1358.4C669.3 1369.1 674.2 1379.7 679 1389.4C683.8 1399.1 688 1407.2 694.5 1416.5C701 1425.8 709.1 1436.5 717.8 1445.5C726.5 1454.5 737.1 1463.9 746.8 1470.7C756.5 1477.5 766.1 1482.2 775.8 1486.2C785.5 1490.2 795.2 1492.8 804.9 1494.9C814.6 1497 825.8 1498.2 833.9 1498.7C842 1499.2 845.2 1498.9 853.3 1497.8C861.4 1496.7 872.6 1493.9 882.3 1492C892 1490.1 903.4 1487.5 911.3 1486.2C919.1 1484.9 921.5 1483.6 929.4 1484.2C937.2 1484.8 948.7 1488.2 958.4 1490C968.1 1491.8 977.7 1494.1 987.4 1494.9C997.1 1495.7 1006.8 1495.9 1016.5 1494.9C1026.2 1493.9 1035.8 1492.2 1045.5 1489.1C1055.2 1486 1064.8 1481.2 1074.5 1476.5C1084.2 1471.8 1094.9 1466.2 1103.6 1461C1112.3 1455.8 1119.7 1451.6 1126.8 1445.5C1133.9 1439.4 1140.4 1432.6 1146.2 1424.2C1152 1415.8 1156.8 1405.2 1161.6 1395.2C1166.4 1385.2 1171 1373.9 1175.2 1364.2C1179.4 1354.5 1183.3 1346 1186.8 1337.1C1190.3 1328.2 1194.7 1315.3 1196.3 1311" fill="none" stroke="#00008b" stroke-width="2.8" stroke-dasharray="11.2 5.4" clip-path="url(#cpc)"/>
<path d="M721.6 1267.4C727.7 1268 735.5 1270 742.9 1273.2C750.3 1276.4 758.4 1281.3 766.1 1286.8C773.9 1292.3 782 1298.4 789.4 1306.1C796.8 1313.8 804.2 1323.5 810.7 1333.2C817.2 1342.9 823.3 1354.2 828.1 1364.2C832.9 1374.2 837.3 1385.2 839.7 1393.3C842.1 1401.4 843.2 1407.1 842.6 1412.6C842 1418.1 839.5 1423 835.8 1426.2C832.1 1429.4 826.1 1431.2 820.3 1432C814.5 1432.8 808.1 1432.6 801 1431C793.9 1429.4 785.5 1426.6 777.8 1422.3C770 1418 762.2 1412 754.5 1404.9C746.8 1397.8 738.4 1389.1 731.3 1379.7C724.2 1370.3 717.4 1359 711.9 1348.7C706.4 1338.4 701.4 1326.8 698.4 1317.8C695.4 1308.8 693.9 1301.3 693.6 1294.5C693.3 1287.7 694.4 1281.3 696.5 1277.1C698.6 1272.9 701.9 1271 706.1 1269.4C710.3 1267.8 715.5 1266.8 721.6 1267.4Z" fill="none" stroke="#00008b" stroke-width="2.8" stroke-dasharray="11.2 5.4" clip-path="url(#cpc)"/>
<path d="M1132.6 1263.6C1137.4 1264.4 1144.1 1265.5 1148.1 1269.4C1152.1 1273.3 1155.3 1280 1156.8 1286.8C1158.2 1293.6 1158.2 1301.3 1156.8 1310C1155.3 1318.7 1152.1 1330 1148.1 1339C1144.1 1348 1138.4 1356.1 1132.6 1364.2C1126.8 1372.3 1120.7 1380 1113.3 1387.4C1105.9 1394.8 1096.5 1402.6 1088.1 1408.7C1079.7 1414.8 1071.3 1420.3 1062.9 1424.2C1054.5 1428.1 1044.9 1430.7 1037.8 1432C1030.7 1433.3 1025.1 1433.1 1020.3 1432C1015.4 1430.9 1011.3 1428.4 1008.7 1425.2C1006.1 1422 1004.8 1418.2 1004.8 1412.6C1004.8 1406.9 1006.1 1399.4 1008.7 1391.3C1011.3 1383.2 1015.8 1373.5 1020.3 1364.2C1024.8 1354.9 1029.7 1344.9 1035.8 1335.2C1041.9 1325.5 1049.7 1314.8 1057.1 1306.1C1064.5 1297.4 1072.5 1289 1080.3 1282.9C1088 1276.8 1097.1 1272.5 1103.6 1269.4C1110.1 1266.3 1114.3 1265.5 1119.1 1264.5C1123.9 1263.5 1127.8 1262.8 1132.6 1263.6Z" fill="none" stroke="#00008b" stroke-width="2.8" stroke-dasharray="11.2 5.4" clip-path="url(#cpc)"/>
<rect x="656.2" y="1097.9" width="540.1" height="470.3" fill="none" stroke="#a9a9a9" stroke-width="1.6"/>
<path d="M656.2 1568.2v3.6" stroke="#8f8f8f" stroke-width="1.3"/>
<text x="656.2" y="1595.8" font-family="'DejaVu Sans','Liberation Sans',sans-serif" font-size="27.3" text-anchor="middle" fill="#111">0</text>
<path d="M776.2 1568.2v3.6" stroke="#8f8f8f" stroke-width="1.3"/>
<text x="776.2" y="1595.8" font-family="'DejaVu Sans','Liberation Sans',sans-serif" font-size="27.3" text-anchor="middle" fill="#111">40</text>
<path d="M896.2 1568.2v3.6" stroke="#8f8f8f" stroke-width="1.3"/>
<text x="896.2" y="1595.8" font-family="'DejaVu Sans','Liberation Sans',sans-serif" font-size="27.3" text-anchor="middle" fill="#111">80</text>
<path d="M1016.2 1568.2v3.6" stroke="#8f8f8f" stroke-width="1.3"/>
<text x="1016.2" y="1595.8" font-family="'DejaVu Sans','Liberation Sans',sans-serif" font-size="27.3" text-anchor="middle" fill="#111">120</text>
<path d="M1136.2 1568.2v3.6" stroke="#8f8f8f" stroke-width="1.3"/>
<text x="1136.2" y="1595.8" font-family="'DejaVu Sans','Liberation Sans',sans-serif" font-size="27.3" text-anchor="middle" fill="#111">160</text>
<path d="M656.2 1133.8h-3.6" stroke="#8f8f8f" stroke-width="1.3"/>
<text x="648.8" y="1143.64" font-family="'DejaVu Sans','Liberation Sans',sans-serif" font-size="27" text-anchor="end" fill="#111">800</text>
<path d="M656.2 1258h-3.6" stroke="#8f8f8f" stroke-width="1.3"/>
<text x="648.8" y="1267.84" font-family="'DejaVu Sans','Liberation Sans',sans-serif" font-size="27" text-anchor="end" fill="#111">600</text>
<path d="M656.2 1382.2h-3.6" stroke="#8f8f8f" stroke-width="1.3"/>
<text x="648.8" y="1392.04" font-family="'DejaVu Sans','Liberation Sans',sans-serif" font-size="27" text-anchor="end" fill="#111">400</text>
<path d="M656.2 1506.4h-3.6" stroke="#8f8f8f" stroke-width="1.3"/>
<text x="648.8" y="1516.24" font-family="'DejaVu Sans','Liberation Sans',sans-serif" font-size="27" text-anchor="end" fill="#111">200</text>
<path d="M716.2 1082v3.2" stroke="#999" stroke-width="1.2"/>
<path d="M776.2 1082v3.2" stroke="#999" stroke-width="1.2"/>
<path d="M836.2 1082v3.2" stroke="#999" stroke-width="1.2"/>
<path d="M896.2 1082v3.2" stroke="#999" stroke-width="1.2"/>
<path d="M956.2 1082v3.2" stroke="#999" stroke-width="1.2"/>
<path d="M1016.2 1082v3.2" stroke="#999" stroke-width="1.2"/>
<path d="M1076.2 1082v3.2" stroke="#999" stroke-width="1.2"/>
<path d="M1136.2 1082v3.2" stroke="#999" stroke-width="1.2"/>
<rect x="656.4" y="925.4" width="539.9" height="156.6" fill="#fff"/>
<path d="M658 1081.4V1073.9H668.8V1064.1H679.5V1048.7H690.3V1033.3H701.1V1019.3H711.8V999H722.6V993.4H733.4V961.1H744.1V953.4H754.9V944.3H765.7V933.1H776.4V944.3H787.2V963.9H798V969.5H808.7V978.6H819.5V1006H830.3V1022.1H841V1038.2H851.8V1052.9H862.6V1057.1H873.3V1067.6H884.1V1069H894.9V1069H905.6V1070.4H916.4V1069.4H927.1V1072.5H937.9V1075.3H948.7V1069.7H959.4V1067.6H970.2V1067.6H981V1059.9H991.7V1051.5H1002.5V1045.2H1013.3V1036.1H1024V1025.6H1034.8V999.7H1045.6V992.7H1056.3V975.8H1067.1V961.1H1077.9V960.4H1088.6V952H1099.4V966H1110.2V986.4H1120.9V982.1H1131.7V1002.5H1142.5V1024.9H1153.2V1036.1H1164V1050.1H1174.8V1064.8H1185.5V1076.7H1196.3V1081.4Z" fill="#dcdcdc" stroke="#9b2c2c" stroke-width="2.3" stroke-linejoin="miter"/>
<path d="M658 1081.4V1071.1H668.8V1055.7H679.5V1044.5H690.3V1027.7H701.1V1004.6H711.8V983.5H722.6V966.7H733.4V955.5H744.1V955.9H754.9V947.8H765.7V953.4H776.4V963.2H787.2V982.1H798V994.1H808.7V1001.1H819.5V1021.4H830.3V1034.7H841V1042.4H851.8V1052.9H862.6V1059.2H873.3V1063.4H884.1V1066.9H894.9V1071.1H905.6V1071.8H916.4V1074.6H927.1V1072.5H937.9V1071.1H948.7V1070.4H959.4V1068.3H970.2V1064.1H981V1055H991.7V1050.1H1002.5V1040.3H1013.3V1034H1024V1017.9H1034.8V1000.4H1045.6V992.7H1056.3V980H1067.1V966.7H1077.9V961.8H1088.6V956.9H1099.4V956.9H1110.2V973.7H1120.9V981.4H1131.7V995.5H1142.5V1009.5H1153.2V1030.5H1164V1042.4H1174.8V1061.3H1185.5V1074.6H1196.3V1081.4" fill="none" stroke="#00008b" stroke-width="2.1"/>
<path d="M709.2 926.2V1081.2" stroke="#9b2c2c" stroke-width="2.4"/>
<path d="M858.6 926.2V1081.2" stroke="#9b2c2c" stroke-width="2.4"/>
<path d="M1141.5 926.2V1081.2" stroke="#9b2c2c" stroke-width="2.4"/>
<path d="M705.5 928.4V1081.2" stroke="#00008b" stroke-width="2.2" stroke-dasharray="8.2 3.6"/>
<path d="M894.4 928.4V1081.2" stroke="#00008b" stroke-width="2.2" stroke-dasharray="8.2 3.6"/>
<path d="M1146.9 928.4V1081.2" stroke="#00008b" stroke-width="2.2" stroke-dasharray="8.2 3.6"/>
<rect x="656.4" y="925.4" width="539.9" height="156.6" fill="none" stroke="#a9a9a9" stroke-width="1.5"/>
<path d="M1214.7 1133.8h-3.2" stroke="#999" stroke-width="1.2"/>
<path d="M1214.7 1258h-3.2" stroke="#999" stroke-width="1.2"/>
<path d="M1214.7 1382.2h-3.2" stroke="#999" stroke-width="1.2"/>
<path d="M1214.7 1506.4h-3.2" stroke="#999" stroke-width="1.2"/>
<rect x="1214.7" y="1098" width="179.9" height="470.3" fill="#fff"/>
<path d="M1215.6 1098.1H1216.3V1178H1220.5V1189.7H1223.5V1199.3H1230.1V1217.6H1239.6V1227.1H1249.9V1235.9H1258.7V1245.4H1288V1255H1296.8V1264.5H1315.1V1273.3H1319.5V1282.1H1336.4V1291.6H1361.3V1301.2H1370.8V1310H1376.7V1319.5H1379V1328.7H1386.6V1338.3H1368V1347.5H1372.3V1356.6H1376.9V1365.8H1362.4V1374.1H1341.8V1383.3H1338.8V1393.2H1336.5V1402.4H1317.4V1411.5H1319.7V1420.7H1305.2V1429.8H1293V1439H1274.7V1457.3H1258.7V1466.4H1250.3V1475.6H1241.2V1485.5H1229V1494.6H1226.7V1503.8H1221.4V1512.9H1219.1V1522.1H1216.5V1548.8H1215.9V1561H1215.6Z" fill="#dcdcdc" stroke="#9b2c2c" stroke-width="2.3"/>
<path d="M1215.6 1112H1215.9V1175H1217.6V1185.3H1219.8V1194.9H1222.7V1204.4H1225.7V1213.9H1227.9V1222.7H1235.9V1232.2H1243.3V1241H1254.3V1250.6H1264.5V1259.4H1277V1268.9H1295.3V1277.7H1308.5V1286.5H1321V1296H1334.2V1304.8H1349.6V1313.6H1353.2V1322.5H1366.3V1331.6H1370.4V1340.6H1373.9V1349.7H1370.8V1358.9H1360.9V1368H1365.5V1377.2H1357.8V1386.3H1352.5V1395.5H1347.2V1404.6H1342.6V1413.8H1331.2V1422.9H1326.6V1432.1H1310.6V1441.2H1298.4V1450.4H1292.3V1458.8H1275.5V1467.9H1262.5V1477.1H1253.4V1486.2H1244.2V1495.4H1236.6V1504.5H1230.5V1513.7H1222.9V1532H1217.5V1550.3H1215.6V1568.3H1215.6" fill="none" stroke="#00008b" stroke-width="2.1"/>
<path d="M1215.5 1245.4H1393.8" stroke="#9b2c2c" stroke-width="2.4"/>
<path d="M1215.5 1343.6H1393.8" stroke="#9b2c2c" stroke-width="2.4"/>
<path d="M1215.5 1456.5H1393.8" stroke="#9b2c2c" stroke-width="2.4"/>
<path d="M1215.5 1254.2H1393.8" stroke="#00008b" stroke-width="2.2" stroke-dasharray="8.2 3.6"/>
<path d="M1215.5 1360H1393.8" stroke="#00008b" stroke-width="2.2" stroke-dasharray="8.2 3.6"/>
<path d="M1215.5 1472.5H1393.8" stroke="#00008b" stroke-width="2.2" stroke-dasharray="8.2 3.6"/>
<rect x="1214.7" y="1098" width="179.9" height="470.3" fill="none" stroke="#a9a9a9" stroke-width="1.5"/>
<rect x="1211.3" y="931.3" width="342.3" height="89" rx="5" ry="5" fill="#fff" stroke="#dedede" stroke-width="1.6"/>
<path d="M1218.5 953.7H1282.7" stroke="#9b2c2c" stroke-width="7.6"/>
<path d="M1222.8 994.7H1252.5M1265.9 994.7H1278.5" stroke="#00008b" stroke-width="7.6"/>
<text x="1300.9" y="964" font-family="'DejaVu Serif','Liberation Serif',serif" font-size="27.69" fill="#111" word-spacing="1.2">PyCBC Inference</text>
<text x="1300.9" y="1004.6" font-family="'DejaVu Serif','Liberation Serif',serif" font-size="27.69" fill="#111" word-spacing="1.7">LVC O1 BBH</text>
<text x="437" y="834.8" font-family="'Liberation Serif','DejaVu Serif',serif" font-size="44" fill="#111">(a)</text>
<text x="1503.3" y="829.3" font-family="'Liberation Serif','DejaVu Serif',serif" font-size="44" fill="#111">(b)</text>
<text x="992.7" y="1691.9" font-family="'Liberation Serif','DejaVu Serif',serif" font-size="44" fill="#111">(c)</text>
<text x="87.5" y="36.7" font-family="'DejaVu Sans','Liberation Sans',sans-serif" font-size="32" font-style="italic" fill="#9b2c2c">m</text>
<text x="119.63" y="24.54" font-family="'DejaVu Sans','Liberation Sans',sans-serif" font-size="22.4" fill="#9b2c2c">src</text>
<text x="118.67" y="44.7" font-family="'DejaVu Sans','Liberation Sans',sans-serif" font-size="22.4" fill="#9b2c2c">1</text>
<text x="155.21" y="36.7" font-family="'DejaVu Sans','Liberation Sans',sans-serif" font-size="32" fill="#9b2c2c">(</text>
<text x="167.06" y="36.7" font-family="'DejaVu Sans','Liberation Sans',sans-serif" font-size="32" fill="#9b2c2c">M</text>
<text x="194.67" y="41.82" font-family="'DejaVu Sans','Liberation Sans',sans-serif" font-size="22.4" fill="#9b2c2c">⊙</text>
<text x="214.72" y="36.7" font-family="'DejaVu Sans','Liberation Sans',sans-serif" font-size="32" fill="#9b2c2c">)</text>
<text x="237.12" y="36.7" font-family="'DejaVu Sans','Liberation Sans',sans-serif" font-size="32" fill="#9b2c2c">=</text>
<text x="274.33" y="36.7" font-family="'DejaVu Sans','Liberation Sans',sans-serif" font-size="31.2" fill="#9b2c2c">13.7</text>
<text x="346.04" y="24.7" font-family="'DejaVu Sans','Liberation Sans',sans-serif" font-size="22.4" fill="#9b2c2c">+7.4</text>
<text x="346.04" y="44.7" font-family="'DejaVu Sans','Liberation Sans',sans-serif" font-size="22.4" fill="#9b2c2c">−3.1</text>
<g transform="translate(859.4 220) rotate(90)">
<text x="0" y="0" font-family="'DejaVu Sans','Liberation Sans',sans-serif" font-size="32.4" font-style="italic" fill="#9b2c2c">m</text>
<text x="32.53" y="-12.31" font-family="'DejaVu Sans','Liberation Sans',sans-serif" font-size="22.68" fill="#9b2c2c">src</text>
<text x="31.56" y="8.1" font-family="'DejaVu Sans','Liberation Sans',sans-serif" font-size="22.68" fill="#9b2c2c">2</text>
<text x="68.56" y="0" font-family="'DejaVu Sans','Liberation Sans',sans-serif" font-size="32.4" fill="#9b2c2c">(</text>
<text x="78.28" y="0" font-family="'DejaVu Sans','Liberation Sans',sans-serif" font-size="32.4" fill="#9b2c2c">M</text>
<text x="103.84" y="5.18" font-family="'DejaVu Sans','Liberation Sans',sans-serif" font-size="22.68" fill="#9b2c2c">⊙</text>
<text x="121.87" y="0" font-family="'DejaVu Sans','Liberation Sans',sans-serif" font-size="32.4" fill="#9b2c2c">)</text>
<text x="149.42" y="0" font-family="'DejaVu Sans','Liberation Sans',sans-serif" font-size="32.4" fill="#9b2c2c">=</text>
<text x="185.31" y="0" font-family="'DejaVu Sans','Liberation Sans',sans-serif" font-size="32.4" fill="#9b2c2c">7.73</text>
<text x="259.72" y="-11.6" font-family="'DejaVu Sans','Liberation Sans',sans-serif" font-size="22.19" fill="#9b2c2c">+2.09</text>
<text x="259.72" y="9.49" font-family="'DejaVu Sans','Liberation Sans',sans-serif" font-size="22.19" fill="#9b2c2c">−2.34</text>
</g>
<text x="294.6" y="774.9" font-family="'DejaVu Sans','Liberation Sans',sans-serif" font-size="32.2" font-style="italic" fill="#111">m</text>
<text x="326.93" y="762.66" font-family="'DejaVu Sans','Liberation Sans',sans-serif" font-size="22.54" fill="#111">src</text>
<text x="325.97" y="782.95" font-family="'DejaVu Sans','Liberation Sans',sans-serif" font-size="22.54" fill="#111">1</text>
<text x="362.74" y="774.9" font-family="'DejaVu Sans','Liberation Sans',sans-serif" font-size="32.2" fill="#111">(</text>
<text x="374.65" y="774.9" font-family="'DejaVu Sans','Liberation Sans',sans-serif" font-size="32.2" fill="#111">M</text>
<text x="402.44" y="780.05" font-family="'DejaVu Sans','Liberation Sans',sans-serif" font-size="22.54" fill="#111">⊙</text>
<text x="422.61" y="774.9" font-family="'DejaVu Sans','Liberation Sans',sans-serif" font-size="32.2" fill="#111">)</text>
<g transform="translate(28.2 538.3) rotate(-90)">
<text x="0" y="0" font-family="'DejaVu Sans','Liberation Sans',sans-serif" font-size="32" font-style="italic" fill="#111">m</text>
<text x="32.13" y="-12.16" font-family="'DejaVu Sans','Liberation Sans',sans-serif" font-size="22.4" fill="#111">src</text>
<text x="31.17" y="8" font-family="'DejaVu Sans','Liberation Sans',sans-serif" font-size="22.4" fill="#111">2</text>
<text x="67.71" y="0" font-family="'DejaVu Sans','Liberation Sans',sans-serif" font-size="32" fill="#111">(</text>
<text x="79.56" y="0" font-family="'DejaVu Sans','Liberation Sans',sans-serif" font-size="32" fill="#111">M</text>
<text x="107.17" y="5.12" font-family="'DejaVu Sans','Liberation Sans',sans-serif" font-size="22.4" fill="#111">⊙</text>
<text x="127.22" y="0" font-family="'DejaVu Sans','Liberation Sans',sans-serif" font-size="32" fill="#111">)</text>
</g>
<text x="1167" y="31.4" font-family="'DejaVu Sans','Liberation Sans',sans-serif" font-size="30" font-style="italic" fill="#9b2c2c">q</text>
<text x="1195.04" y="31.4" font-family="'DejaVu Sans','Liberation Sans',sans-serif" font-size="30" fill="#9b2c2c">=</text>
<text x="1230.08" y="31.4" font-family="'DejaVu Sans','Liberation Sans',sans-serif" font-size="29.25" fill="#9b2c2c">1.76</text>
<text x="1295.8" y="20.15" font-family="'DejaVu Sans','Liberation Sans',sans-serif" font-size="20.7" fill="#9b2c2c">+2.15</text>
<text x="1295.8" y="38.9" font-family="'DejaVu Sans','Liberation Sans',sans-serif" font-size="20.7" fill="#9b2c2c">−0.69</text>
<g transform="translate(1921.8 216) rotate(90)">
<text x="0" y="0" font-family="'DejaVu Sans','Liberation Sans',sans-serif" font-size="30" font-style="italic" fill="#9b2c2c">χ</text>
<text x="17.75" y="5.4" font-family="'DejaVu Sans','Liberation Sans',sans-serif" font-size="21" fill="#9b2c2c">eff</text>
<text x="54.44" y="0" font-family="'DejaVu Sans','Liberation Sans',sans-serif" font-size="30" fill="#9b2c2c">=</text>
<text x="89.18" y="0" font-family="'DejaVu Sans','Liberation Sans',sans-serif" font-size="28.8" fill="#9b2c2c">0.199</text>
<text x="173.74" y="-11.25" font-family="'DejaVu Sans','Liberation Sans',sans-serif" font-size="21" fill="#9b2c2c">+0.170</text>
<text x="173.74" y="7.5" font-family="'DejaVu Sans','Liberation Sans',sans-serif" font-size="21" fill="#9b2c2c">−0.071</text>
</g>
<text x="1428.6" y="755.8" font-family="'DejaVu Sans','Liberation Sans',sans-serif" font-size="30" font-style="italic" fill="#111">q</text>
<g transform="translate(1106.6 482.6) rotate(-90)">
<text x="0" y="0" font-family="'DejaVu Sans','Liberation Sans',sans-serif" font-size="30" font-style="italic" fill="#111">χ</text>
<text x="17.75" y="5.7" font-family="'DejaVu Sans','Liberation Sans',sans-serif" font-size="21" fill="#111">eff</text>
</g>
<text x="654.8" y="908.6" font-family="'DejaVu Sans','Liberation Sans',sans-serif" font-size="31.5" font-style="italic" fill="#9b2c2c">ι</text>
<text x="674.91" y="908.6" font-family="'DejaVu Sans','Liberation Sans',sans-serif" font-size="31.5" fill="#9b2c2c">(deg)</text>
<text x="768.31" y="908.6" font-family="'DejaVu Sans','Liberation Sans',sans-serif" font-size="31.5" fill="#9b2c2c">=</text>
<text x="806.04" y="908.6" font-family="'DejaVu Sans','Liberation Sans',sans-serif" font-size="31.5" fill="#9b2c2c">67.4</text>
<text x="876.81" y="897.58" font-family="'DejaVu Sans','Liberation Sans',sans-serif" font-size="22.05" fill="#9b2c2c">+94.2</text>
<text x="876.81" y="917.11" font-family="'DejaVu Sans','Liberation Sans',sans-serif" font-size="22.05" fill="#9b2c2c">−49.8</text>
<g transform="translate(1412 1089.3) rotate(90)">
<text x="0" y="0" font-family="'DejaVu Sans','Liberation Sans',sans-serif" font-size="31.3" font-style="italic" fill="#9b2c2c">d</text>
<text x="19.87" y="5.63" font-family="'DejaVu Sans','Liberation Sans',sans-serif" font-size="21.91" font-style="italic" fill="#9b2c2c">L</text>
<text x="41.47" y="0" font-family="'DejaVu Sans','Liberation Sans',sans-serif" font-size="31.3" fill="#9b2c2c">(Mpc)</text>
<text x="142.49" y="0" font-family="'DejaVu Sans','Liberation Sans',sans-serif" font-size="31.3" fill="#9b2c2c">=</text>
<text x="177.48" y="0" font-family="'DejaVu Sans','Liberation Sans',sans-serif" font-size="31.3" fill="#9b2c2c">461</text>
<text x="238.78" y="-11.74" font-family="'DejaVu Sans','Liberation Sans',sans-serif" font-size="21.91" fill="#9b2c2c">+157</text>
<text x="238.78" y="7.83" font-family="'DejaVu Sans','Liberation Sans',sans-serif" font-size="21.91" fill="#9b2c2c">−181</text>
</g>
<text x="875.5" y="1632.7" font-family="'DejaVu Sans','Liberation Sans',sans-serif" font-size="31.5" font-style="italic" fill="#111">ι</text>
<text x="895.61" y="1632.7" font-family="'DejaVu Sans','Liberation Sans',sans-serif" font-size="31.5" fill="#111">(deg)</text>
<g transform="translate(582.2 1397.8) rotate(-90)">
<text x="0" y="0" font-family="'DejaVu Sans','Liberation Sans',sans-serif" font-size="31.2" font-style="italic" fill="#111">d</text>
<text x="19.8" y="5.93" font-family="'DejaVu Sans','Liberation Sans',sans-serif" font-size="21.84" font-style="italic" fill="#111">L</text>
<text x="41.33" y="0" font-family="'DejaVu Sans','Liberation Sans',sans-serif" font-size="31.2" fill="#111">(Mpc)</text>
</g>
</svg></body></html>
